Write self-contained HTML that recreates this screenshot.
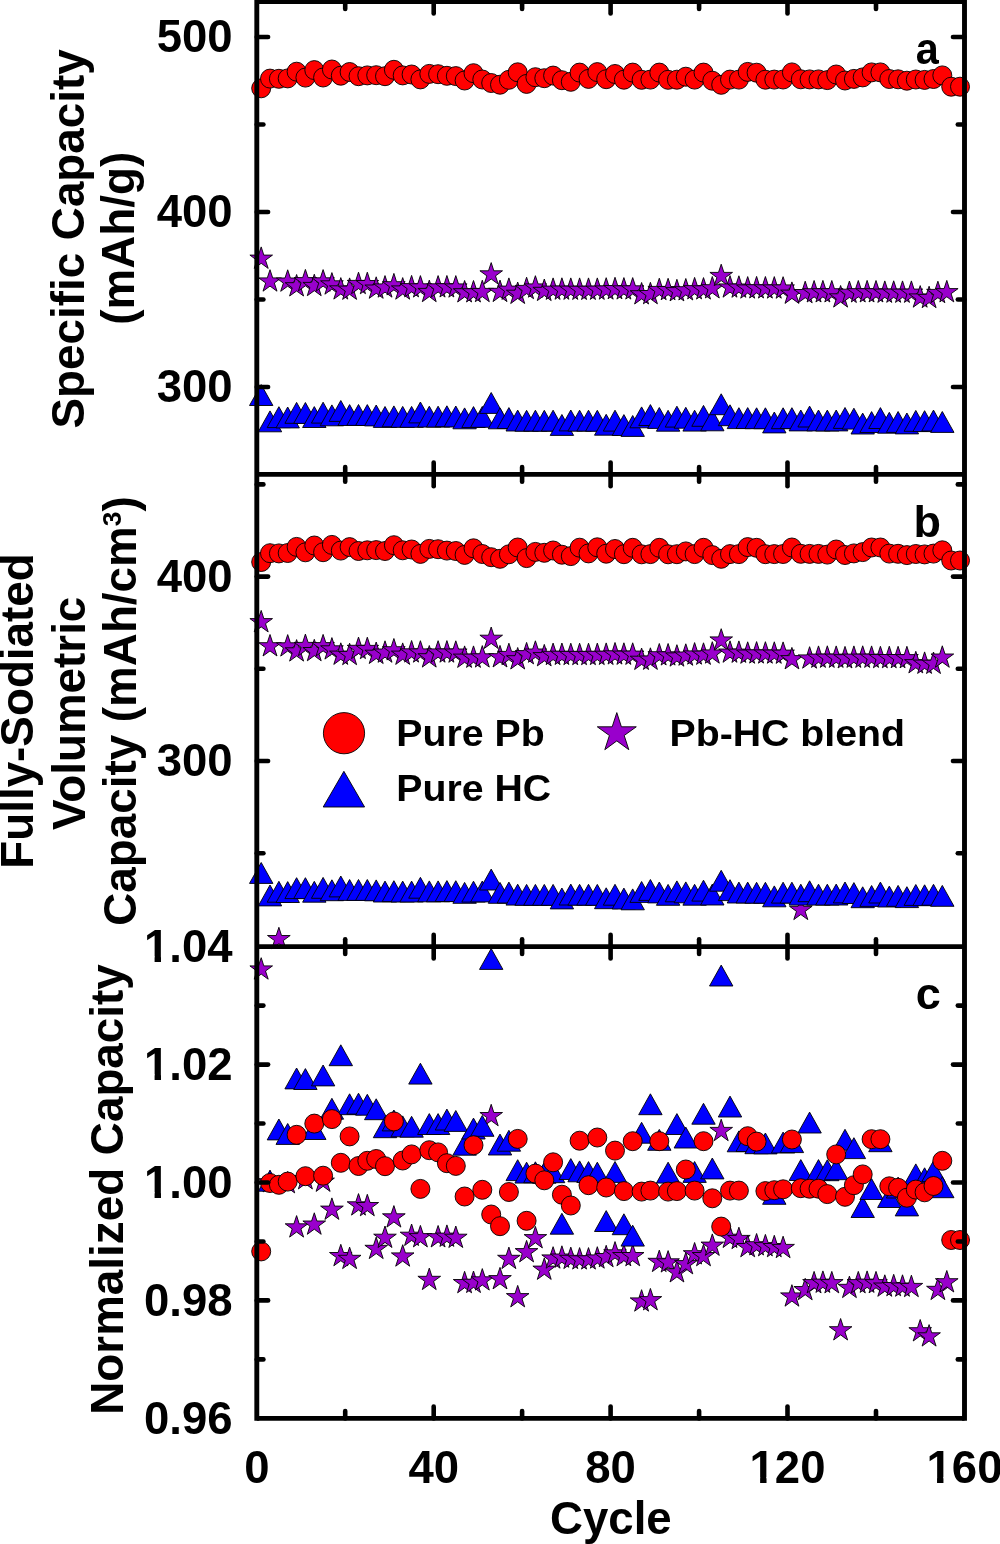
<!DOCTYPE html>
<html lang="en"><head><meta charset="utf-8">
<title>Cycling performance: Pure Pb, Pure HC and Pb-HC blend</title>
<style>html,body{margin:0;padding:0;background:#fff}svg{display:block}</style>
</head><body>
<svg width="1000" height="1544" viewBox="0 0 1000 1544">
<rect width="1000" height="1544" fill="#fff"/>
<g id="panel-a"><g fill="#9900cc" stroke="#000" stroke-width="0.9" stroke-linejoin="miter">
<path d="M261.2 246.9L263.8 255.1L272.5 255.1L265.5 260.2L268.2 268.4L261.2 263.3L254.2 268.4L256.8 260.2L249.9 255.1L258.5 255.1Z"/>
<path d="M270.0 269.7L272.7 277.9L281.3 277.9L274.3 283.0L277.0 291.2L270.0 286.1L263.0 291.2L265.7 283.0L258.7 277.9L267.3 277.9Z"/>
<path d="M287.7 269.8L290.4 278.0L299.0 278.0L292.0 283.1L294.7 291.3L287.7 286.2L280.7 291.3L283.4 283.1L276.4 278.0L285.0 278.0Z"/>
<path d="M296.6 274.5L299.2 282.7L307.9 282.7L300.9 287.8L303.6 296.0L296.6 291.0L289.6 296.0L292.2 287.8L285.2 282.7L293.9 282.7Z"/>
<path d="M305.4 269.4L308.1 277.6L316.7 277.6L309.7 282.7L312.4 290.9L305.4 285.8L298.4 290.9L301.1 282.7L294.1 277.6L302.7 277.6Z"/>
<path d="M314.3 274.2L316.9 282.4L325.6 282.4L318.6 287.5L321.2 295.7L314.3 290.7L307.3 295.7L309.9 287.5L302.9 282.4L311.6 282.4Z"/>
<path d="M323.1 269.6L325.8 277.8L334.4 277.8L327.4 282.9L330.1 291.2L323.1 286.1L316.1 291.2L318.8 282.9L311.8 277.8L320.4 277.8Z"/>
<path d="M331.9 272.6L334.6 280.8L343.3 280.8L336.3 285.9L338.9 294.2L331.9 289.1L324.9 294.2L327.6 285.9L320.6 280.8L329.3 280.8Z"/>
<path d="M340.8 277.6L343.5 285.8L352.1 285.8L345.1 290.9L347.8 299.1L340.8 294.0L333.8 299.1L336.5 290.9L329.5 285.8L338.1 285.8Z"/>
<path d="M349.6 277.9L352.3 286.1L361.0 286.1L354.0 291.2L356.6 299.4L349.6 294.3L342.6 299.4L345.3 291.2L338.3 286.1L347.0 286.1Z"/>
<path d="M358.5 272.2L361.2 280.4L369.8 280.4L362.8 285.5L365.5 293.7L358.5 288.6L351.5 293.7L354.2 285.5L347.2 280.4L355.8 280.4Z"/>
<path d="M367.3 272.2L370.0 280.5L378.6 280.5L371.7 285.5L374.3 293.8L367.3 288.7L360.3 293.8L363.0 285.5L356.0 280.5L364.7 280.5Z"/>
<path d="M376.2 276.8L378.8 285.0L387.5 285.0L380.5 290.1L383.2 298.3L376.2 293.3L369.2 298.3L371.9 290.1L364.9 285.0L373.5 285.0Z"/>
<path d="M385.0 275.6L387.7 283.9L396.3 283.9L389.3 288.9L392.0 297.2L385.0 292.1L378.0 297.2L380.7 288.9L373.7 283.9L382.3 283.9Z"/>
<path d="M393.9 273.4L396.5 281.7L405.2 281.7L398.2 286.8L400.9 295.0L393.9 289.9L386.9 295.0L389.5 286.8L382.5 281.7L391.2 281.7Z"/>
<path d="M402.7 277.6L405.4 285.9L414.0 285.9L407.0 290.9L409.7 299.2L402.7 294.1L395.7 299.2L398.4 290.9L391.4 285.9L400.0 285.9Z"/>
<path d="M411.6 275.4L414.2 283.6L422.9 283.6L415.9 288.7L418.6 296.9L411.6 291.9L404.6 296.9L407.2 288.7L400.2 283.6L408.9 283.6Z"/>
<path d="M420.4 275.6L423.1 283.8L431.7 283.8L424.7 288.9L427.4 297.1L420.4 292.0L413.4 297.1L416.1 288.9L409.1 283.8L417.7 283.8Z"/>
<path d="M429.3 280.1L431.9 288.4L440.6 288.4L433.6 293.4L436.2 301.7L429.3 296.6L422.3 301.7L424.9 293.4L417.9 288.4L426.6 288.4Z"/>
<path d="M438.1 275.6L440.8 283.8L449.4 283.8L442.4 288.9L445.1 297.1L438.1 292.0L431.1 297.1L433.8 288.9L426.8 283.8L435.4 283.8Z"/>
<path d="M446.9 275.5L449.6 283.7L458.3 283.7L451.3 288.8L453.9 297.0L446.9 292.0L439.9 297.0L442.6 288.8L435.6 283.7L444.3 283.7Z"/>
<path d="M455.8 275.6L458.5 283.9L467.1 283.9L460.1 288.9L462.8 297.2L455.8 292.1L448.8 297.2L451.5 288.9L444.5 283.9L453.1 283.9Z"/>
<path d="M464.6 280.5L467.3 288.7L476.0 288.7L469.0 293.8L471.6 302.0L464.6 296.9L457.6 302.0L460.3 293.8L453.3 288.7L462.0 288.7Z"/>
<path d="M473.5 280.5L476.2 288.7L484.8 288.7L477.8 293.8L480.5 302.0L473.5 296.9L466.5 302.0L469.2 293.8L462.2 288.7L470.8 288.7Z"/>
<path d="M482.3 280.2L485.0 288.4L493.6 288.4L486.7 293.5L489.3 301.7L482.3 296.6L475.3 301.7L478.0 293.5L471.0 288.4L479.7 288.4Z"/>
<path d="M491.2 262.6L493.8 270.8L502.5 270.8L495.5 275.9L498.2 284.1L491.2 279.0L484.2 284.1L486.9 275.9L479.9 270.8L488.5 270.8Z"/>
<path d="M500.0 280.1L502.7 288.3L511.3 288.3L504.3 293.4L507.0 301.6L500.0 296.5L493.0 301.6L495.7 293.4L488.7 288.3L497.3 288.3Z"/>
<path d="M508.9 277.9L511.5 286.1L520.2 286.1L513.2 291.2L515.9 299.4L508.9 294.3L501.9 299.4L504.5 291.2L497.6 286.1L506.2 286.1Z"/>
<path d="M517.7 282.0L520.4 290.2L529.0 290.2L522.0 295.3L524.7 303.5L517.7 298.4L510.7 303.5L513.4 295.3L506.4 290.2L515.0 290.2Z"/>
<path d="M526.6 277.2L529.2 285.4L537.9 285.4L530.9 290.5L533.6 298.7L526.6 293.6L519.6 298.7L522.2 290.5L515.2 285.4L523.9 285.4Z"/>
<path d="M535.4 275.7L538.1 283.9L546.7 283.9L539.7 289.0L542.4 297.2L535.4 292.1L528.4 297.2L531.1 289.0L524.1 283.9L532.7 283.9Z"/>
<path d="M544.3 279.0L546.9 287.3L555.6 287.3L548.6 292.4L551.2 300.6L544.3 295.5L537.3 300.6L539.9 292.4L532.9 287.3L541.6 287.3Z"/>
<path d="M553.1 277.9L555.8 286.1L564.4 286.1L557.4 291.2L560.1 299.4L553.1 294.3L546.1 299.4L548.8 291.2L541.8 286.1L550.4 286.1Z"/>
<path d="M561.9 277.8L564.6 286.0L573.3 286.0L566.3 291.1L568.9 299.3L561.9 294.2L555.0 299.3L557.6 291.1L550.6 286.0L559.3 286.0Z"/>
<path d="M570.8 277.9L573.5 286.1L582.1 286.1L575.1 291.2L577.8 299.4L570.8 294.3L563.8 299.4L566.5 291.2L559.5 286.1L568.1 286.1Z"/>
<path d="M579.6 277.9L582.3 286.2L591.0 286.2L584.0 291.3L586.6 299.5L579.6 294.4L572.6 299.5L575.3 291.3L568.3 286.2L577.0 286.2Z"/>
<path d="M588.5 277.9L591.2 286.2L599.8 286.2L592.8 291.3L595.5 299.5L588.5 294.4L581.5 299.5L584.2 291.3L577.2 286.2L585.8 286.2Z"/>
<path d="M597.3 277.9L600.0 286.1L608.6 286.1L601.7 291.2L604.3 299.4L597.3 294.3L590.3 299.4L593.0 291.2L586.0 286.1L594.7 286.1Z"/>
<path d="M606.2 277.7L608.8 285.9L617.5 285.9L610.5 291.0L613.2 299.2L606.2 294.1L599.2 299.2L601.9 291.0L594.9 285.9L603.5 285.9Z"/>
<path d="M615.0 277.3L617.7 285.5L626.3 285.5L619.3 290.6L622.0 298.8L615.0 293.7L608.0 298.8L610.7 290.6L603.7 285.5L612.4 285.5Z"/>
<path d="M623.9 277.6L626.5 285.8L635.2 285.8L628.2 290.9L630.9 299.1L623.9 294.0L616.9 299.1L619.5 290.9L612.6 285.8L621.2 285.8Z"/>
<path d="M632.7 277.6L635.4 285.8L644.0 285.8L637.0 290.9L639.7 299.1L632.7 294.0L625.7 299.1L628.4 290.9L621.4 285.8L630.0 285.8Z"/>
<path d="M641.6 282.5L644.2 290.7L652.9 290.7L645.9 295.8L648.6 304.0L641.6 298.9L634.6 304.0L637.2 295.8L630.2 290.7L638.9 290.7Z"/>
<path d="M650.4 282.3L653.1 290.5L661.7 290.5L654.7 295.6L657.4 303.8L650.4 298.8L643.4 303.8L646.1 295.6L639.1 290.5L647.7 290.5Z"/>
<path d="M659.3 278.2L661.9 286.4L670.6 286.4L663.6 291.5L666.2 299.7L659.3 294.7L652.3 299.7L654.9 291.5L647.9 286.4L656.6 286.4Z"/>
<path d="M668.1 278.3L670.8 286.5L679.4 286.5L672.4 291.6L675.1 299.8L668.1 294.7L661.1 299.8L663.8 291.6L656.8 286.5L665.4 286.5Z"/>
<path d="M676.9 279.3L679.6 287.6L688.3 287.6L681.3 292.6L683.9 300.9L676.9 295.8L670.0 300.9L672.6 292.6L665.6 287.6L674.3 287.6Z"/>
<path d="M685.8 278.5L688.5 286.7L697.1 286.7L690.1 291.8L692.8 300.0L685.8 294.9L678.8 300.0L681.5 291.8L674.5 286.7L683.1 286.7Z"/>
<path d="M694.6 277.4L697.3 285.6L706.0 285.6L699.0 290.7L701.6 298.9L694.6 293.8L687.6 298.9L690.3 290.7L683.3 285.6L692.0 285.6Z"/>
<path d="M703.5 277.6L706.2 285.8L714.8 285.8L707.8 290.9L710.5 299.1L703.5 294.0L696.5 299.1L699.2 290.9L692.2 285.8L700.8 285.8Z"/>
<path d="M712.3 276.5L715.0 284.7L723.6 284.7L716.7 289.8L719.3 298.0L712.3 292.9L705.3 298.0L708.0 289.8L701.0 284.7L709.7 284.7Z"/>
<path d="M721.2 264.2L723.9 272.4L732.5 272.4L725.5 277.5L728.2 285.7L721.2 280.6L714.2 285.7L716.9 277.5L709.9 272.4L718.5 272.4Z"/>
<path d="M730.0 275.6L732.7 283.9L741.3 283.9L734.3 288.9L737.0 297.2L730.0 292.1L723.0 297.2L725.7 288.9L718.7 283.9L727.4 283.9Z"/>
<path d="M738.9 275.8L741.5 284.0L750.2 284.0L743.2 289.1L745.9 297.3L738.9 292.2L731.9 297.3L734.5 289.1L727.6 284.0L736.2 284.0Z"/>
<path d="M747.7 276.6L750.4 284.9L759.0 284.9L752.0 289.9L754.7 298.2L747.7 293.1L740.7 298.2L743.4 289.9L736.4 284.9L745.0 284.9Z"/>
<path d="M756.6 276.4L759.2 284.7L767.9 284.7L760.9 289.7L763.6 298.0L756.6 292.9L749.6 298.0L752.2 289.7L745.2 284.7L753.9 284.7Z"/>
<path d="M765.4 276.5L768.1 284.8L776.7 284.8L769.7 289.8L772.4 298.1L765.4 293.0L758.4 298.1L761.1 289.8L754.1 284.8L762.7 284.8Z"/>
<path d="M774.3 276.6L776.9 284.9L785.6 284.9L778.6 289.9L781.3 298.2L774.3 293.1L767.3 298.2L769.9 289.9L762.9 284.9L771.6 284.9Z"/>
<path d="M783.1 276.7L785.8 284.9L794.4 284.9L787.4 290.0L790.1 298.3L783.1 293.2L776.1 298.3L778.8 290.0L771.8 284.9L780.4 284.9Z"/>
<path d="M791.9 281.9L794.6 290.1L803.3 290.1L796.3 295.2L798.9 303.4L791.9 298.4L785.0 303.4L787.6 295.2L780.6 290.1L789.3 290.1Z"/>
<path d="M805.2 281.2L807.9 289.5L816.5 289.5L809.5 294.5L812.2 302.8L805.2 297.7L798.2 302.8L800.9 294.5L793.9 289.5L802.5 289.5Z"/>
<path d="M814.1 280.5L816.7 288.7L825.4 288.7L818.4 293.8L821.1 302.0L814.1 296.9L807.1 302.0L809.7 293.8L802.7 288.7L811.4 288.7Z"/>
<path d="M822.9 280.4L825.6 288.7L834.2 288.7L827.2 293.7L829.9 302.0L822.9 296.9L815.9 302.0L818.6 293.7L811.6 288.7L820.2 288.7Z"/>
<path d="M831.8 280.5L834.4 288.7L843.1 288.7L836.1 293.8L838.8 302.0L831.8 296.9L824.8 302.0L827.4 293.8L820.4 288.7L829.1 288.7Z"/>
<path d="M840.6 285.5L843.3 293.8L851.9 293.8L844.9 298.8L847.6 307.1L840.6 302.0L833.6 307.1L836.3 298.8L829.3 293.8L837.9 293.8Z"/>
<path d="M849.4 281.0L852.1 289.2L860.8 289.2L853.8 294.3L856.4 302.5L849.4 297.4L842.5 302.5L845.1 294.3L838.1 289.2L846.8 289.2Z"/>
<path d="M858.3 280.5L861.0 288.7L869.6 288.7L862.6 293.8L865.3 302.0L858.3 296.9L851.3 302.0L854.0 293.8L847.0 288.7L855.6 288.7Z"/>
<path d="M867.1 280.4L869.8 288.7L878.5 288.7L871.5 293.7L874.1 302.0L867.1 296.9L860.1 302.0L862.8 293.7L855.8 288.7L864.5 288.7Z"/>
<path d="M876.0 280.5L878.7 288.7L887.3 288.7L880.3 293.8L883.0 302.0L876.0 296.9L869.0 302.0L871.7 293.8L864.7 288.7L873.3 288.7Z"/>
<path d="M884.8 280.9L887.5 289.1L896.2 289.1L889.2 294.2L891.8 302.4L884.8 297.3L877.8 302.4L880.5 294.2L873.5 289.1L882.2 289.1Z"/>
<path d="M893.7 280.8L896.4 289.0L905.0 289.0L898.0 294.1L900.7 302.3L893.7 297.3L886.7 302.3L889.4 294.1L882.4 289.0L891.0 289.0Z"/>
<path d="M902.5 280.9L905.2 289.1L913.8 289.1L906.8 294.2L909.5 302.4L902.5 297.3L895.5 302.4L898.2 294.2L891.2 289.1L899.9 289.1Z"/>
<path d="M911.4 280.9L914.0 289.1L922.7 289.1L915.7 294.2L918.4 302.4L911.4 297.3L904.4 302.4L907.0 294.2L900.1 289.1L908.7 289.1Z"/>
<path d="M920.2 285.6L922.9 293.9L931.5 293.9L924.5 299.0L927.2 307.2L920.2 302.1L913.2 307.2L915.9 299.0L908.9 293.9L917.5 293.9Z"/>
<path d="M929.1 286.2L931.7 294.4L940.4 294.4L933.4 299.5L936.1 307.7L929.1 302.6L922.1 307.7L924.7 299.5L917.7 294.4L926.4 294.4Z"/>
<path d="M937.9 281.2L940.6 289.4L949.2 289.4L942.2 294.5L944.9 302.7L937.9 297.7L930.9 302.7L933.6 294.5L926.6 289.4L935.2 289.4Z"/>
<path d="M946.8 280.4L949.4 288.6L958.1 288.6L951.1 293.7L953.8 301.9L946.8 296.8L939.8 301.9L942.4 293.7L935.4 288.6L944.1 288.6Z"/>
</g>
<g fill="#0000ff" stroke="#000" stroke-width="0.9" stroke-linejoin="miter">
<path d="M261.2 384.6L272.9 405.5L249.5 405.5Z"/>
<path d="M270.0 410.9L281.7 431.8L258.3 431.8Z"/>
<path d="M278.9 406.7L290.6 427.6L267.2 427.6Z"/>
<path d="M287.7 407.0L299.4 427.9L276.0 427.9Z"/>
<path d="M296.6 402.4L308.3 423.3L284.9 423.3Z"/>
<path d="M305.4 402.5L317.1 423.4L293.7 423.4Z"/>
<path d="M314.3 406.6L326.0 427.5L302.6 427.5Z"/>
<path d="M323.1 402.2L334.8 423.1L311.4 423.1Z"/>
<path d="M331.9 404.9L343.6 425.8L320.2 425.8Z"/>
<path d="M340.8 400.5L352.5 421.4L329.1 421.4Z"/>
<path d="M349.6 404.6L361.3 425.5L337.9 425.5Z"/>
<path d="M358.5 404.5L370.2 425.4L346.8 425.4Z"/>
<path d="M367.3 404.6L379.0 425.5L355.6 425.5Z"/>
<path d="M376.2 405.0L387.9 425.9L364.5 425.9Z"/>
<path d="M385.0 406.5L396.7 427.4L373.3 427.4Z"/>
<path d="M393.9 405.9L405.6 426.8L382.2 426.8Z"/>
<path d="M402.7 406.4L414.4 427.3L391.0 427.3Z"/>
<path d="M411.6 406.4L423.3 427.3L399.9 427.3Z"/>
<path d="M420.4 402.0L432.1 422.9L408.7 422.9Z"/>
<path d="M429.3 406.2L441.0 427.1L417.6 427.1Z"/>
<path d="M438.1 406.2L449.8 427.1L426.4 427.1Z"/>
<path d="M446.9 405.8L458.6 426.7L435.2 426.7Z"/>
<path d="M455.8 406.0L467.5 426.9L444.1 426.9Z"/>
<path d="M464.6 407.9L476.3 428.8L452.9 428.8Z"/>
<path d="M473.5 406.6L485.2 427.5L461.8 427.5Z"/>
<path d="M482.3 406.4L494.0 427.3L470.6 427.3Z"/>
<path d="M491.2 392.5L502.9 413.4L479.5 413.4Z"/>
<path d="M500.0 407.9L511.7 428.8L488.3 428.8Z"/>
<path d="M508.9 407.6L520.6 428.5L497.2 428.5Z"/>
<path d="M517.7 410.1L529.4 431.0L506.0 431.0Z"/>
<path d="M526.6 410.3L538.3 431.2L514.9 431.2Z"/>
<path d="M535.4 410.2L547.1 431.1L523.7 431.1Z"/>
<path d="M544.3 410.3L556.0 431.2L532.6 431.2Z"/>
<path d="M553.1 410.2L564.8 431.1L541.4 431.1Z"/>
<path d="M561.9 414.5L573.6 435.4L550.2 435.4Z"/>
<path d="M570.8 410.0L582.5 430.9L559.1 430.9Z"/>
<path d="M579.6 410.2L591.3 431.1L567.9 431.1Z"/>
<path d="M588.5 410.2L600.2 431.1L576.8 431.1Z"/>
<path d="M597.3 410.3L609.0 431.2L585.6 431.2Z"/>
<path d="M606.2 414.3L617.9 435.2L594.5 435.2Z"/>
<path d="M615.0 410.2L626.7 431.1L603.3 431.1Z"/>
<path d="M623.9 414.6L635.6 435.5L612.2 435.5Z"/>
<path d="M632.7 415.5L644.4 436.4L621.0 436.4Z"/>
<path d="M641.6 406.9L653.3 427.8L629.9 427.8Z"/>
<path d="M650.4 404.6L662.1 425.5L638.7 425.5Z"/>
<path d="M659.3 407.5L671.0 428.4L647.6 428.4Z"/>
<path d="M668.1 410.3L679.8 431.2L656.4 431.2Z"/>
<path d="M676.9 406.2L688.6 427.1L665.2 427.1Z"/>
<path d="M685.8 407.3L697.5 428.2L674.1 428.2Z"/>
<path d="M694.6 410.2L706.3 431.1L682.9 431.1Z"/>
<path d="M703.5 405.4L715.2 426.3L691.8 426.3Z"/>
<path d="M712.3 409.9L724.0 430.8L700.6 430.8Z"/>
<path d="M721.2 393.8L732.9 414.7L709.5 414.7Z"/>
<path d="M730.0 404.8L741.7 425.7L718.3 425.7Z"/>
<path d="M738.9 407.7L750.6 428.6L727.2 428.6Z"/>
<path d="M747.7 407.6L759.4 428.5L736.0 428.5Z"/>
<path d="M756.6 407.8L768.3 428.7L744.9 428.7Z"/>
<path d="M765.4 407.8L777.1 428.7L753.7 428.7Z"/>
<path d="M774.3 412.0L786.0 432.9L762.6 432.9Z"/>
<path d="M783.1 407.8L794.8 428.7L771.4 428.7Z"/>
<path d="M791.9 407.7L803.6 428.6L780.2 428.6Z"/>
<path d="M800.8 410.0L812.5 430.9L789.1 430.9Z"/>
<path d="M809.6 406.1L821.3 427.0L797.9 427.0Z"/>
<path d="M818.5 410.0L830.2 430.9L806.8 430.9Z"/>
<path d="M827.3 410.1L839.0 431.0L815.6 431.0Z"/>
<path d="M836.2 410.0L847.9 430.9L824.5 430.9Z"/>
<path d="M845.0 407.5L856.7 428.4L833.3 428.4Z"/>
<path d="M853.9 408.2L865.6 429.1L842.2 429.1Z"/>
<path d="M862.7 413.1L874.4 434.0L851.0 434.0Z"/>
<path d="M871.6 411.6L883.3 432.5L859.9 432.5Z"/>
<path d="M880.4 407.6L892.1 428.5L868.7 428.5Z"/>
<path d="M889.3 412.3L901.0 433.2L877.6 433.2Z"/>
<path d="M898.1 411.5L909.8 432.4L886.4 432.4Z"/>
<path d="M906.9 413.0L918.6 433.9L895.2 433.9Z"/>
<path d="M915.8 410.4L927.5 431.3L904.1 431.3Z"/>
<path d="M924.6 410.7L936.3 431.6L912.9 431.6Z"/>
<path d="M933.5 410.1L945.2 431.0L921.8 431.0Z"/>
<path d="M942.3 411.5L954.0 432.4L930.6 432.4Z"/>
</g>
<g fill="#ff0000" stroke="#000" stroke-width="0.9" stroke-linejoin="miter">
<circle cx="261.2" cy="88.3" r="9.5"/>
<circle cx="270.0" cy="78.6" r="9.5"/>
<circle cx="278.9" cy="78.8" r="9.5"/>
<circle cx="287.7" cy="78.4" r="9.5"/>
<circle cx="296.6" cy="71.7" r="9.5"/>
<circle cx="305.4" cy="77.6" r="9.5"/>
<circle cx="314.3" cy="70.1" r="9.5"/>
<circle cx="323.1" cy="77.5" r="9.5"/>
<circle cx="331.9" cy="69.5" r="9.5"/>
<circle cx="340.8" cy="75.7" r="9.5"/>
<circle cx="349.6" cy="72.0" r="9.5"/>
<circle cx="358.5" cy="76.2" r="9.5"/>
<circle cx="367.3" cy="75.4" r="9.5"/>
<circle cx="376.2" cy="75.2" r="9.5"/>
<circle cx="385.0" cy="76.2" r="9.5"/>
<circle cx="393.9" cy="69.8" r="9.5"/>
<circle cx="402.7" cy="75.4" r="9.5"/>
<circle cx="411.6" cy="74.5" r="9.5"/>
<circle cx="420.4" cy="79.4" r="9.5"/>
<circle cx="429.3" cy="73.9" r="9.5"/>
<circle cx="438.1" cy="74.2" r="9.5"/>
<circle cx="446.9" cy="75.8" r="9.5"/>
<circle cx="455.8" cy="76.1" r="9.5"/>
<circle cx="464.6" cy="80.5" r="9.5"/>
<circle cx="473.5" cy="73.2" r="9.5"/>
<circle cx="482.3" cy="79.5" r="9.5"/>
<circle cx="491.2" cy="83.0" r="9.5"/>
<circle cx="500.0" cy="84.7" r="9.5"/>
<circle cx="508.9" cy="79.8" r="9.5"/>
<circle cx="517.7" cy="72.3" r="9.5"/>
<circle cx="526.6" cy="83.9" r="9.5"/>
<circle cx="535.4" cy="77.2" r="9.5"/>
<circle cx="544.3" cy="78.2" r="9.5"/>
<circle cx="553.1" cy="75.6" r="9.5"/>
<circle cx="561.9" cy="80.2" r="9.5"/>
<circle cx="570.8" cy="81.8" r="9.5"/>
<circle cx="579.6" cy="72.6" r="9.5"/>
<circle cx="588.5" cy="78.9" r="9.5"/>
<circle cx="597.3" cy="72.1" r="9.5"/>
<circle cx="606.2" cy="79.2" r="9.5"/>
<circle cx="615.0" cy="74.0" r="9.5"/>
<circle cx="623.9" cy="79.7" r="9.5"/>
<circle cx="632.7" cy="72.6" r="9.5"/>
<circle cx="641.6" cy="79.8" r="9.5"/>
<circle cx="650.4" cy="79.6" r="9.5"/>
<circle cx="659.3" cy="72.6" r="9.5"/>
<circle cx="668.1" cy="79.8" r="9.5"/>
<circle cx="676.9" cy="79.7" r="9.5"/>
<circle cx="685.8" cy="76.7" r="9.5"/>
<circle cx="694.6" cy="79.6" r="9.5"/>
<circle cx="703.5" cy="72.6" r="9.5"/>
<circle cx="712.3" cy="80.7" r="9.5"/>
<circle cx="721.2" cy="84.8" r="9.5"/>
<circle cx="730.0" cy="79.6" r="9.5"/>
<circle cx="738.9" cy="79.6" r="9.5"/>
<circle cx="747.7" cy="71.9" r="9.5"/>
<circle cx="756.6" cy="72.7" r="9.5"/>
<circle cx="765.4" cy="79.7" r="9.5"/>
<circle cx="774.3" cy="79.6" r="9.5"/>
<circle cx="783.1" cy="79.5" r="9.5"/>
<circle cx="791.9" cy="72.4" r="9.5"/>
<circle cx="800.8" cy="79.3" r="9.5"/>
<circle cx="809.6" cy="79.4" r="9.5"/>
<circle cx="818.5" cy="79.4" r="9.5"/>
<circle cx="827.3" cy="80.1" r="9.5"/>
<circle cx="836.2" cy="74.5" r="9.5"/>
<circle cx="845.0" cy="80.5" r="9.5"/>
<circle cx="853.9" cy="78.9" r="9.5"/>
<circle cx="862.7" cy="77.4" r="9.5"/>
<circle cx="871.6" cy="72.4" r="9.5"/>
<circle cx="880.4" cy="72.4" r="9.5"/>
<circle cx="889.3" cy="79.0" r="9.5"/>
<circle cx="898.1" cy="79.3" r="9.5"/>
<circle cx="906.9" cy="80.7" r="9.5"/>
<circle cx="915.8" cy="79.5" r="9.5"/>
<circle cx="924.6" cy="79.9" r="9.5"/>
<circle cx="933.5" cy="79.0" r="9.5"/>
<circle cx="942.3" cy="75.4" r="9.5"/>
<circle cx="951.2" cy="86.7" r="9.5"/>
<circle cx="960.0" cy="86.7" r="9.5"/>
</g></g>
<g id="panel-b"><g fill="#9900cc" stroke="#000" stroke-width="0.9" stroke-linejoin="miter">
<path d="M261.2 610.4L263.8 618.6L272.5 618.6L265.5 623.7L268.2 631.9L261.2 626.9L254.2 631.9L256.8 623.7L249.9 618.6L258.5 618.6Z"/>
<path d="M270.0 634.5L272.7 642.7L281.3 642.7L274.3 647.8L277.0 656.0L270.0 650.9L263.0 656.0L265.7 647.8L258.7 642.7L267.3 642.7Z"/>
<path d="M278.9 927.3L281.5 935.5L290.2 935.5L283.2 940.6L285.9 948.8L278.9 943.7L271.9 948.8L274.5 940.6L267.5 935.5L276.2 935.5Z"/>
<path d="M287.7 634.6L290.4 642.8L299.0 642.8L292.0 647.9L294.7 656.1L287.7 651.0L280.7 656.1L283.4 647.9L276.4 642.8L285.0 642.8Z"/>
<path d="M296.6 639.6L299.2 647.8L307.9 647.8L300.9 652.9L303.6 661.1L296.6 656.0L289.6 661.1L292.2 652.9L285.2 647.8L293.9 647.8Z"/>
<path d="M305.4 634.1L308.1 642.4L316.7 642.4L309.7 647.4L312.4 655.7L305.4 650.6L298.4 655.7L301.1 647.4L294.1 642.4L302.7 642.4Z"/>
<path d="M314.3 639.3L316.9 647.5L325.6 647.5L318.6 652.6L321.2 660.8L314.3 655.7L307.3 660.8L309.9 652.6L302.9 647.5L311.6 647.5Z"/>
<path d="M323.1 634.4L325.8 642.6L334.4 642.6L327.4 647.7L330.1 655.9L323.1 650.9L316.1 655.9L318.8 647.7L311.8 642.6L320.4 642.6Z"/>
<path d="M331.9 637.6L334.6 645.8L343.3 645.8L336.3 650.9L338.9 659.1L331.9 654.0L324.9 659.1L327.6 650.9L320.6 645.8L329.3 645.8Z"/>
<path d="M340.8 642.8L343.5 651.1L352.1 651.1L345.1 656.1L347.8 664.4L340.8 659.3L333.8 664.4L336.5 656.1L329.5 651.1L338.1 651.1Z"/>
<path d="M349.6 643.2L352.3 651.4L361.0 651.4L354.0 656.5L356.6 664.7L349.6 659.6L342.6 664.7L345.3 656.5L338.3 651.4L347.0 651.4Z"/>
<path d="M358.5 637.1L361.2 645.3L369.8 645.3L362.8 650.4L365.5 658.6L358.5 653.5L351.5 658.6L354.2 650.4L347.2 645.3L355.8 645.3Z"/>
<path d="M367.3 637.2L370.0 645.4L378.6 645.4L371.7 650.5L374.3 658.7L367.3 653.6L360.3 658.7L363.0 650.5L356.0 645.4L364.7 645.4Z"/>
<path d="M376.2 642.0L378.8 650.2L387.5 650.2L380.5 655.3L383.2 663.5L376.2 658.5L369.2 663.5L371.9 655.3L364.9 650.2L373.5 650.2Z"/>
<path d="M385.0 640.8L387.7 649.0L396.3 649.0L389.3 654.1L392.0 662.3L385.0 657.2L378.0 662.3L380.7 654.1L373.7 649.0L382.3 649.0Z"/>
<path d="M393.9 638.5L396.5 646.7L405.2 646.7L398.2 651.8L400.9 660.0L393.9 654.9L386.9 660.0L389.5 651.8L382.5 646.7L391.2 646.7Z"/>
<path d="M402.7 642.9L405.4 651.1L414.0 651.1L407.0 656.2L409.7 664.4L402.7 659.3L395.7 664.4L398.4 656.2L391.4 651.1L400.0 651.1Z"/>
<path d="M411.6 640.5L414.2 648.8L422.9 648.8L415.9 653.8L418.6 662.1L411.6 657.0L404.6 662.1L407.2 653.8L400.2 648.8L408.9 648.8Z"/>
<path d="M420.4 640.7L423.1 648.9L431.7 648.9L424.7 654.0L427.4 662.2L420.4 657.1L413.4 662.2L416.1 654.0L409.1 648.9L417.7 648.9Z"/>
<path d="M429.3 645.5L431.9 653.7L440.6 653.7L433.6 658.8L436.2 667.1L429.3 662.0L422.3 667.1L424.9 658.8L417.9 653.7L426.6 653.7Z"/>
<path d="M438.1 640.7L440.8 648.9L449.4 648.9L442.4 654.0L445.1 662.2L438.1 657.2L431.1 662.2L433.8 654.0L426.8 648.9L435.4 648.9Z"/>
<path d="M446.9 640.6L449.6 648.9L458.3 648.9L451.3 653.9L453.9 662.2L446.9 657.1L439.9 662.2L442.6 653.9L435.6 648.9L444.3 648.9Z"/>
<path d="M455.8 640.8L458.5 649.0L467.1 649.0L460.1 654.1L462.8 662.3L455.8 657.2L448.8 662.3L451.5 654.1L444.5 649.0L453.1 649.0Z"/>
<path d="M464.6 645.9L467.3 654.1L476.0 654.1L469.0 659.2L471.6 667.4L464.6 662.3L457.6 667.4L460.3 659.2L453.3 654.1L462.0 654.1Z"/>
<path d="M473.5 645.9L476.2 654.1L484.8 654.1L477.8 659.2L480.5 667.4L473.5 662.3L466.5 667.4L469.2 659.2L462.2 654.1L470.8 654.1Z"/>
<path d="M482.3 645.6L485.0 653.8L493.6 653.8L486.7 658.9L489.3 667.1L482.3 662.0L475.3 667.1L478.0 658.9L471.0 653.8L479.7 653.8Z"/>
<path d="M491.2 627.0L493.8 635.2L502.5 635.2L495.5 640.3L498.2 648.5L491.2 643.4L484.2 648.5L486.9 640.3L479.9 635.2L488.5 635.2Z"/>
<path d="M500.0 645.4L502.7 653.7L511.3 653.7L504.3 658.8L507.0 667.0L500.0 661.9L493.0 667.0L495.7 658.8L488.7 653.7L497.3 653.7Z"/>
<path d="M508.9 643.2L511.5 651.4L520.2 651.4L513.2 656.5L515.9 664.7L508.9 659.6L501.9 664.7L504.5 656.5L497.6 651.4L506.2 651.4Z"/>
<path d="M517.7 647.5L520.4 655.7L529.0 655.7L522.0 660.8L524.7 669.0L517.7 663.9L510.7 669.0L513.4 660.8L506.4 655.7L515.0 655.7Z"/>
<path d="M526.6 642.4L529.2 650.6L537.9 650.6L530.9 655.7L533.6 663.9L526.6 658.8L519.6 663.9L522.2 655.7L515.2 650.6L523.9 650.6Z"/>
<path d="M535.4 640.8L538.1 649.0L546.7 649.0L539.7 654.1L542.4 662.3L535.4 657.3L528.4 662.3L531.1 654.1L524.1 649.0L532.7 649.0Z"/>
<path d="M544.3 644.4L546.9 652.6L555.6 652.6L548.6 657.7L551.2 665.9L544.3 660.8L537.3 665.9L539.9 657.7L532.9 652.6L541.6 652.6Z"/>
<path d="M553.1 643.1L555.8 651.3L564.4 651.3L557.4 656.4L560.1 664.6L553.1 659.6L546.1 664.6L548.8 656.4L541.8 651.3L550.4 651.3Z"/>
<path d="M561.9 643.0L564.6 651.2L573.3 651.2L566.3 656.3L568.9 664.5L561.9 659.5L555.0 664.5L557.6 656.3L550.6 651.2L559.3 651.2Z"/>
<path d="M570.8 643.2L573.5 651.4L582.1 651.4L575.1 656.5L577.8 664.7L570.8 659.6L563.8 664.7L566.5 656.5L559.5 651.4L568.1 651.4Z"/>
<path d="M579.6 643.2L582.3 651.4L591.0 651.4L584.0 656.5L586.6 664.7L579.6 659.7L572.6 664.7L575.3 656.5L568.3 651.4L577.0 651.4Z"/>
<path d="M588.5 643.2L591.2 651.4L599.8 651.4L592.8 656.5L595.5 664.7L588.5 659.7L581.5 664.7L584.2 656.5L577.2 651.4L585.8 651.4Z"/>
<path d="M597.3 643.1L600.0 651.3L608.6 651.3L601.7 656.4L604.3 664.6L597.3 659.6L590.3 664.6L593.0 656.4L586.0 651.3L594.7 651.3Z"/>
<path d="M606.2 642.9L608.8 651.2L617.5 651.2L610.5 656.3L613.2 664.5L606.2 659.4L599.2 664.5L601.9 656.3L594.9 651.2L603.5 651.2Z"/>
<path d="M615.0 642.5L617.7 650.8L626.3 650.8L619.3 655.8L622.0 664.1L615.0 659.0L608.0 664.1L610.7 655.8L603.7 650.8L612.4 650.8Z"/>
<path d="M623.9 642.8L626.5 651.1L635.2 651.1L628.2 656.1L630.9 664.4L623.9 659.3L616.9 664.4L619.5 656.1L612.6 651.1L621.2 651.1Z"/>
<path d="M632.7 642.8L635.4 651.1L644.0 651.1L637.0 656.1L639.7 664.4L632.7 659.3L625.7 664.4L628.4 656.1L621.4 651.1L630.0 651.1Z"/>
<path d="M641.6 648.0L644.2 656.2L652.9 656.2L645.9 661.3L648.6 669.5L641.6 664.4L634.6 669.5L637.2 661.3L630.2 656.2L638.9 656.2Z"/>
<path d="M650.4 647.8L653.1 656.0L661.7 656.0L654.7 661.1L657.4 669.4L650.4 664.3L643.4 669.4L646.1 661.1L639.1 656.0L647.7 656.0Z"/>
<path d="M659.3 643.5L661.9 651.7L670.6 651.7L663.6 656.8L666.2 665.0L659.3 659.9L652.3 665.0L654.9 656.8L647.9 651.7L656.6 651.7Z"/>
<path d="M668.1 643.5L670.8 651.8L679.4 651.8L672.4 656.9L675.1 665.1L668.1 660.0L661.1 665.1L663.8 656.9L656.8 651.8L665.4 651.8Z"/>
<path d="M676.9 644.7L679.6 652.9L688.3 652.9L681.3 658.0L683.9 666.2L676.9 661.1L670.0 666.2L672.6 658.0L665.6 652.9L674.3 652.9Z"/>
<path d="M685.8 643.8L688.5 652.0L697.1 652.0L690.1 657.1L692.8 665.3L685.8 660.2L678.8 665.3L681.5 657.1L674.5 652.0L683.1 652.0Z"/>
<path d="M694.6 642.6L697.3 650.9L706.0 650.9L699.0 655.9L701.6 664.2L694.6 659.1L687.6 664.2L690.3 655.9L683.3 650.9L692.0 650.9Z"/>
<path d="M703.5 642.8L706.2 651.1L714.8 651.1L707.8 656.1L710.5 664.4L703.5 659.3L696.5 664.4L699.2 656.1L692.2 651.1L700.8 651.1Z"/>
<path d="M712.3 641.7L715.0 649.9L723.6 649.9L716.7 655.0L719.3 663.2L712.3 658.1L705.3 663.2L708.0 655.0L701.0 649.9L709.7 649.9Z"/>
<path d="M721.2 628.7L723.9 636.9L732.5 636.9L725.5 642.0L728.2 650.2L721.2 645.1L714.2 650.2L716.9 642.0L709.9 636.9L718.5 636.9Z"/>
<path d="M730.0 640.8L732.7 649.0L741.3 649.0L734.3 654.1L737.0 662.3L730.0 657.2L723.0 662.3L725.7 654.1L718.7 649.0L727.4 649.0Z"/>
<path d="M738.9 640.9L741.5 649.1L750.2 649.1L743.2 654.2L745.9 662.4L738.9 657.3L731.9 662.4L734.5 654.2L727.6 649.1L736.2 649.1Z"/>
<path d="M747.7 641.8L750.4 650.0L759.0 650.0L752.0 655.1L754.7 663.3L747.7 658.3L740.7 663.3L743.4 655.1L736.4 650.0L745.0 650.0Z"/>
<path d="M756.6 641.6L759.2 649.8L767.9 649.8L760.9 654.9L763.6 663.1L756.6 658.1L749.6 663.1L752.2 654.9L745.2 649.8L753.9 649.8Z"/>
<path d="M765.4 641.7L768.1 649.9L776.7 649.9L769.7 655.0L772.4 663.2L765.4 658.2L758.4 663.2L761.1 655.0L754.1 649.9L762.7 649.9Z"/>
<path d="M774.3 641.8L776.9 650.0L785.6 650.0L778.6 655.1L781.3 663.3L774.3 658.3L767.3 663.3L769.9 655.1L762.9 650.0L771.6 650.0Z"/>
<path d="M783.1 641.9L785.8 650.1L794.4 650.1L787.4 655.2L790.1 663.4L783.1 658.4L776.1 663.4L778.8 655.2L771.8 650.1L780.4 650.1Z"/>
<path d="M791.9 647.4L794.6 655.6L803.3 655.6L796.3 660.7L798.9 668.9L791.9 663.9L785.0 668.9L787.6 660.7L780.6 655.6L789.3 655.6Z"/>
<path d="M800.8 898.1L803.5 906.3L812.1 906.3L805.1 911.4L807.8 919.6L800.8 914.5L793.8 919.6L796.5 911.4L789.5 906.3L798.1 906.3Z"/>
<path d="M809.6 646.7L812.3 654.9L821.0 654.9L814.0 660.0L816.6 668.2L809.6 663.1L802.6 668.2L805.3 660.0L798.3 654.9L807.0 654.9Z"/>
<path d="M818.5 645.9L821.2 654.1L829.8 654.1L822.8 659.2L825.5 667.4L818.5 662.3L811.5 667.4L814.2 659.2L807.2 654.1L815.8 654.1Z"/>
<path d="M827.3 645.8L830.0 654.1L838.7 654.1L831.7 659.1L834.3 667.4L827.3 662.3L820.3 667.4L823.0 659.1L816.0 654.1L824.7 654.1Z"/>
<path d="M836.2 645.9L838.9 654.1L847.5 654.1L840.5 659.2L843.2 667.4L836.2 662.3L829.2 667.4L831.9 659.2L824.9 654.1L833.5 654.1Z"/>
<path d="M845.0 646.4L847.7 654.7L856.3 654.7L849.3 659.7L852.0 668.0L845.0 662.9L838.0 668.0L840.7 659.7L833.7 654.7L842.4 654.7Z"/>
<path d="M853.9 645.9L856.5 654.1L865.2 654.1L858.2 659.2L860.9 667.4L853.9 662.3L846.9 667.4L849.5 659.2L842.6 654.1L851.2 654.1Z"/>
<path d="M862.7 645.8L865.4 654.1L874.0 654.1L867.0 659.1L869.7 667.4L862.7 662.3L855.7 667.4L858.4 659.1L851.4 654.1L860.0 654.1Z"/>
<path d="M871.6 645.9L874.2 654.1L882.9 654.1L875.9 659.2L878.6 667.4L871.6 662.3L864.6 667.4L867.2 659.2L860.2 654.1L868.9 654.1Z"/>
<path d="M880.4 646.3L883.1 654.5L891.7 654.5L884.7 659.6L887.4 667.8L880.4 662.7L873.4 667.8L876.1 659.6L869.1 654.5L877.7 654.5Z"/>
<path d="M889.3 646.2L891.9 654.5L900.6 654.5L893.6 659.5L896.3 667.8L889.3 662.7L882.3 667.8L884.9 659.5L877.9 654.5L886.6 654.5Z"/>
<path d="M898.1 646.3L900.8 654.5L909.4 654.5L902.4 659.6L905.1 667.8L898.1 662.7L891.1 667.8L893.8 659.6L886.8 654.5L895.4 654.5Z"/>
<path d="M906.9 646.3L909.6 654.6L918.3 654.6L911.3 659.6L913.9 667.9L906.9 662.8L900.0 667.9L902.6 659.6L895.6 654.6L904.3 654.6Z"/>
<path d="M915.8 651.3L918.5 659.6L927.1 659.6L920.1 664.6L922.8 672.9L915.8 667.8L908.8 672.9L911.5 664.6L904.5 659.6L913.1 659.6Z"/>
<path d="M924.6 651.9L927.3 660.1L936.0 660.1L929.0 665.2L931.6 673.4L924.6 668.4L917.6 673.4L920.3 665.2L913.3 660.1L922.0 660.1Z"/>
<path d="M933.5 652.0L936.2 660.2L944.8 660.2L937.8 665.3L940.5 673.5L933.5 668.4L926.5 673.5L929.2 665.3L922.2 660.2L930.8 660.2Z"/>
<path d="M942.3 645.8L945.0 654.0L953.7 654.0L946.7 659.1L949.3 667.3L942.3 662.2L935.3 667.3L938.0 659.1L931.0 654.0L939.7 654.0Z"/>
</g>
<g fill="#0000ff" stroke="#000" stroke-width="0.9" stroke-linejoin="miter">
<path d="M261.2 862.5L272.9 883.4L249.5 883.4Z"/>
<path d="M270.0 885.0L281.7 905.9L258.3 905.9Z"/>
<path d="M278.9 881.3L290.6 902.2L267.2 902.2Z"/>
<path d="M287.7 881.6L299.4 902.5L276.0 902.5Z"/>
<path d="M296.6 877.7L308.3 898.6L284.9 898.6Z"/>
<path d="M305.4 877.7L317.1 898.6L293.7 898.6Z"/>
<path d="M314.3 881.3L326.0 902.2L302.6 902.2Z"/>
<path d="M323.1 877.4L334.8 898.3L311.4 898.3Z"/>
<path d="M331.9 879.8L343.6 900.7L320.2 900.7Z"/>
<path d="M340.8 876.0L352.5 896.9L329.1 896.9Z"/>
<path d="M349.6 879.5L361.3 900.4L337.9 900.4Z"/>
<path d="M358.5 879.5L370.2 900.4L346.8 900.4Z"/>
<path d="M367.3 879.5L379.0 900.4L355.6 900.4Z"/>
<path d="M376.2 879.9L387.9 900.8L364.5 900.8Z"/>
<path d="M385.0 881.1L396.7 902.0L373.3 902.0Z"/>
<path d="M393.9 880.7L405.6 901.6L382.2 901.6Z"/>
<path d="M402.7 881.1L414.4 902.0L391.0 902.0Z"/>
<path d="M411.6 881.1L423.3 902.0L399.9 902.0Z"/>
<path d="M420.4 877.3L432.1 898.2L408.7 898.2Z"/>
<path d="M429.3 880.9L441.0 901.8L417.6 901.8Z"/>
<path d="M438.1 880.9L449.8 901.8L426.4 901.8Z"/>
<path d="M446.9 880.6L458.6 901.5L435.2 901.5Z"/>
<path d="M455.8 880.7L467.5 901.6L444.1 901.6Z"/>
<path d="M464.6 882.4L476.3 903.3L452.9 903.3Z"/>
<path d="M473.5 881.2L485.2 902.1L461.8 902.1Z"/>
<path d="M482.3 881.0L494.0 901.9L470.6 901.9Z"/>
<path d="M491.2 869.1L502.9 890.0L479.5 890.0Z"/>
<path d="M500.0 882.4L511.7 903.3L488.3 903.3Z"/>
<path d="M508.9 882.1L520.6 903.0L497.2 903.0Z"/>
<path d="M517.7 884.2L529.4 905.1L506.0 905.1Z"/>
<path d="M526.6 884.4L538.3 905.3L514.9 905.3Z"/>
<path d="M535.4 884.4L547.1 905.3L523.7 905.3Z"/>
<path d="M544.3 884.4L556.0 905.3L532.6 905.3Z"/>
<path d="M553.1 884.4L564.8 905.3L541.4 905.3Z"/>
<path d="M561.9 888.0L573.6 908.9L550.2 908.9Z"/>
<path d="M570.8 884.1L582.5 905.0L559.1 905.0Z"/>
<path d="M579.6 884.3L591.3 905.2L567.9 905.2Z"/>
<path d="M588.5 884.3L600.2 905.2L576.8 905.2Z"/>
<path d="M597.3 884.4L609.0 905.3L585.6 905.3Z"/>
<path d="M606.2 887.8L617.9 908.7L594.5 908.7Z"/>
<path d="M615.0 884.3L626.7 905.2L603.3 905.2Z"/>
<path d="M623.9 888.1L635.6 909.0L612.2 909.0Z"/>
<path d="M632.7 888.9L644.4 909.8L621.0 909.8Z"/>
<path d="M641.6 881.5L653.3 902.4L629.9 902.4Z"/>
<path d="M650.4 879.5L662.1 900.4L638.7 900.4Z"/>
<path d="M659.3 882.0L671.0 902.9L647.6 902.9Z"/>
<path d="M668.1 884.4L679.8 905.3L656.4 905.3Z"/>
<path d="M676.9 880.9L688.6 901.8L665.2 901.8Z"/>
<path d="M685.8 881.9L697.5 902.8L674.1 902.8Z"/>
<path d="M694.6 884.3L706.3 905.2L682.9 905.2Z"/>
<path d="M703.5 880.2L715.2 901.1L691.8 901.1Z"/>
<path d="M712.3 884.1L724.0 905.0L700.6 905.0Z"/>
<path d="M721.2 870.3L732.9 891.2L709.5 891.2Z"/>
<path d="M730.0 879.7L741.7 900.6L718.3 900.6Z"/>
<path d="M738.9 882.1L750.6 903.0L727.2 903.0Z"/>
<path d="M747.7 882.1L759.4 903.0L736.0 903.0Z"/>
<path d="M756.6 882.3L768.3 903.2L744.9 903.2Z"/>
<path d="M765.4 882.3L777.1 903.2L753.7 903.2Z"/>
<path d="M774.3 885.9L786.0 906.8L762.6 906.8Z"/>
<path d="M783.1 882.2L794.8 903.1L771.4 903.1Z"/>
<path d="M791.9 882.2L803.6 903.1L780.2 903.1Z"/>
<path d="M800.8 884.2L812.5 905.1L789.1 905.1Z"/>
<path d="M809.6 880.8L821.3 901.7L797.9 901.7Z"/>
<path d="M818.5 884.2L830.2 905.1L806.8 905.1Z"/>
<path d="M827.3 884.2L839.0 905.1L815.6 905.1Z"/>
<path d="M836.2 884.1L847.9 905.0L824.5 905.0Z"/>
<path d="M845.0 882.0L856.7 902.9L833.3 902.9Z"/>
<path d="M853.9 882.6L865.6 903.5L842.2 903.5Z"/>
<path d="M862.7 886.8L874.4 907.7L851.0 907.7Z"/>
<path d="M871.6 885.5L883.3 906.4L859.9 906.4Z"/>
<path d="M880.4 882.1L892.1 903.0L868.7 903.0Z"/>
<path d="M889.3 886.1L901.0 907.0L877.6 907.0Z"/>
<path d="M898.1 885.4L909.8 906.3L886.4 906.3Z"/>
<path d="M906.9 886.7L918.6 907.6L895.2 907.6Z"/>
<path d="M915.8 884.5L927.5 905.4L904.1 905.4Z"/>
<path d="M924.6 884.8L936.3 905.7L912.9 905.7Z"/>
<path d="M933.5 884.3L945.2 905.2L921.8 905.2Z"/>
<path d="M942.3 885.4L954.0 906.3L930.6 906.3Z"/>
</g>
<g fill="#ff0000" stroke="#000" stroke-width="0.9" stroke-linejoin="miter">
<circle cx="261.2" cy="562.0" r="9.5"/>
<circle cx="270.0" cy="553.2" r="9.5"/>
<circle cx="278.9" cy="553.4" r="9.5"/>
<circle cx="287.7" cy="553.0" r="9.5"/>
<circle cx="296.6" cy="546.9" r="9.5"/>
<circle cx="305.4" cy="552.3" r="9.5"/>
<circle cx="314.3" cy="545.5" r="9.5"/>
<circle cx="323.1" cy="552.2" r="9.5"/>
<circle cx="331.9" cy="544.9" r="9.5"/>
<circle cx="340.8" cy="550.6" r="9.5"/>
<circle cx="349.6" cy="547.1" r="9.5"/>
<circle cx="358.5" cy="551.0" r="9.5"/>
<circle cx="367.3" cy="550.3" r="9.5"/>
<circle cx="376.2" cy="550.1" r="9.5"/>
<circle cx="385.0" cy="551.0" r="9.5"/>
<circle cx="393.9" cy="545.2" r="9.5"/>
<circle cx="402.7" cy="550.3" r="9.5"/>
<circle cx="411.6" cy="549.5" r="9.5"/>
<circle cx="420.4" cy="553.9" r="9.5"/>
<circle cx="429.3" cy="548.9" r="9.5"/>
<circle cx="438.1" cy="549.2" r="9.5"/>
<circle cx="446.9" cy="550.6" r="9.5"/>
<circle cx="455.8" cy="551.0" r="9.5"/>
<circle cx="464.6" cy="554.9" r="9.5"/>
<circle cx="473.5" cy="548.3" r="9.5"/>
<circle cx="482.3" cy="554.0" r="9.5"/>
<circle cx="491.2" cy="557.2" r="9.5"/>
<circle cx="500.0" cy="558.8" r="9.5"/>
<circle cx="508.9" cy="554.3" r="9.5"/>
<circle cx="517.7" cy="547.5" r="9.5"/>
<circle cx="526.6" cy="558.1" r="9.5"/>
<circle cx="535.4" cy="551.9" r="9.5"/>
<circle cx="544.3" cy="552.8" r="9.5"/>
<circle cx="553.1" cy="550.5" r="9.5"/>
<circle cx="561.9" cy="554.7" r="9.5"/>
<circle cx="570.8" cy="556.1" r="9.5"/>
<circle cx="579.6" cy="547.7" r="9.5"/>
<circle cx="588.5" cy="553.4" r="9.5"/>
<circle cx="597.3" cy="547.3" r="9.5"/>
<circle cx="606.2" cy="553.7" r="9.5"/>
<circle cx="615.0" cy="549.0" r="9.5"/>
<circle cx="623.9" cy="554.2" r="9.5"/>
<circle cx="632.7" cy="547.8" r="9.5"/>
<circle cx="641.6" cy="554.3" r="9.5"/>
<circle cx="650.4" cy="554.1" r="9.5"/>
<circle cx="659.3" cy="547.8" r="9.5"/>
<circle cx="668.1" cy="554.3" r="9.5"/>
<circle cx="676.9" cy="554.2" r="9.5"/>
<circle cx="685.8" cy="551.4" r="9.5"/>
<circle cx="694.6" cy="554.1" r="9.5"/>
<circle cx="703.5" cy="547.8" r="9.5"/>
<circle cx="712.3" cy="555.1" r="9.5"/>
<circle cx="721.2" cy="558.8" r="9.5"/>
<circle cx="730.0" cy="554.1" r="9.5"/>
<circle cx="738.9" cy="554.1" r="9.5"/>
<circle cx="747.7" cy="547.1" r="9.5"/>
<circle cx="756.6" cy="547.8" r="9.5"/>
<circle cx="765.4" cy="554.2" r="9.5"/>
<circle cx="774.3" cy="554.1" r="9.5"/>
<circle cx="783.1" cy="554.0" r="9.5"/>
<circle cx="791.9" cy="547.5" r="9.5"/>
<circle cx="800.8" cy="553.8" r="9.5"/>
<circle cx="809.6" cy="553.9" r="9.5"/>
<circle cx="818.5" cy="553.9" r="9.5"/>
<circle cx="827.3" cy="554.6" r="9.5"/>
<circle cx="836.2" cy="549.5" r="9.5"/>
<circle cx="845.0" cy="555.0" r="9.5"/>
<circle cx="853.9" cy="553.4" r="9.5"/>
<circle cx="862.7" cy="552.1" r="9.5"/>
<circle cx="871.6" cy="547.5" r="9.5"/>
<circle cx="880.4" cy="547.5" r="9.5"/>
<circle cx="889.3" cy="553.6" r="9.5"/>
<circle cx="898.1" cy="553.8" r="9.5"/>
<circle cx="906.9" cy="555.1" r="9.5"/>
<circle cx="915.8" cy="554.0" r="9.5"/>
<circle cx="924.6" cy="554.4" r="9.5"/>
<circle cx="933.5" cy="553.6" r="9.5"/>
<circle cx="942.3" cy="550.3" r="9.5"/>
<circle cx="951.2" cy="560.5" r="9.5"/>
<circle cx="960.0" cy="560.5" r="9.5"/>
</g></g>
<g id="panel-c"><g fill="#9900cc" stroke="#000" stroke-width="0.9" stroke-linejoin="miter">
<path d="M261.2 957.7L263.8 965.9L272.5 965.9L265.5 971.0L268.2 979.2L261.2 974.1L254.2 979.2L256.8 971.0L249.9 965.9L258.5 965.9Z"/>
<path d="M270.0 1170.5L272.7 1178.7L281.3 1178.7L274.3 1183.8L277.0 1192.0L270.0 1186.9L263.0 1192.0L265.7 1183.8L258.7 1178.7L267.3 1178.7Z"/>
<path d="M287.7 1171.4L290.4 1179.6L299.0 1179.6L292.0 1184.7L294.7 1192.9L287.7 1187.8L280.7 1192.9L283.4 1184.7L276.4 1179.6L285.0 1179.6Z"/>
<path d="M296.6 1215.6L299.2 1223.8L307.9 1223.8L300.9 1228.9L303.6 1237.1L296.6 1232.0L289.6 1237.1L292.2 1228.9L285.2 1223.8L293.9 1223.8Z"/>
<path d="M305.4 1167.4L308.1 1175.6L316.7 1175.6L309.7 1180.7L312.4 1188.9L305.4 1183.8L298.4 1188.9L301.1 1180.7L294.1 1175.6L302.7 1175.6Z"/>
<path d="M314.3 1212.8L316.9 1221.0L325.6 1221.0L318.6 1226.1L321.2 1234.3L314.3 1229.2L307.3 1234.3L309.9 1226.1L302.9 1221.0L311.6 1221.0Z"/>
<path d="M323.1 1169.9L325.8 1178.1L334.4 1178.1L327.4 1183.2L330.1 1191.4L323.1 1186.3L316.1 1191.4L318.8 1183.2L311.8 1178.1L320.4 1178.1Z"/>
<path d="M331.9 1197.9L334.6 1206.1L343.3 1206.1L336.3 1211.2L338.9 1219.4L331.9 1214.3L324.9 1219.4L327.6 1211.2L320.6 1206.1L329.3 1206.1Z"/>
<path d="M340.8 1244.3L343.5 1252.5L352.1 1252.5L345.1 1257.6L347.8 1265.8L340.8 1260.7L333.8 1265.8L336.5 1257.6L329.5 1252.5L338.1 1252.5Z"/>
<path d="M349.6 1247.1L352.3 1255.3L361.0 1255.3L354.0 1260.4L356.6 1268.6L349.6 1263.5L342.6 1268.6L345.3 1260.4L338.3 1255.3L347.0 1255.3Z"/>
<path d="M358.5 1193.6L361.2 1201.8L369.8 1201.8L362.8 1206.9L365.5 1215.1L358.5 1210.0L351.5 1215.1L354.2 1206.9L347.2 1201.8L355.8 1201.8Z"/>
<path d="M367.3 1194.3L370.0 1202.5L378.6 1202.5L371.7 1207.6L374.3 1215.8L367.3 1210.7L360.3 1215.8L363.0 1207.6L356.0 1202.5L364.7 1202.5Z"/>
<path d="M376.2 1237.1L378.8 1245.3L387.5 1245.3L380.5 1250.4L383.2 1258.6L376.2 1253.5L369.2 1258.6L371.9 1250.4L364.9 1245.3L373.5 1245.3Z"/>
<path d="M385.0 1226.0L387.7 1234.2L396.3 1234.2L389.3 1239.3L392.0 1247.5L385.0 1242.4L378.0 1247.5L380.7 1239.3L373.7 1234.2L382.3 1234.2Z"/>
<path d="M393.9 1205.6L396.5 1213.8L405.2 1213.8L398.2 1218.9L400.9 1227.1L393.9 1222.0L386.9 1227.1L389.5 1218.9L382.5 1213.8L391.2 1213.8Z"/>
<path d="M402.7 1244.7L405.4 1252.9L414.0 1252.9L407.0 1258.0L409.7 1266.2L402.7 1261.1L395.7 1266.2L398.4 1258.0L391.4 1252.9L400.0 1252.9Z"/>
<path d="M411.6 1224.0L414.2 1232.2L422.9 1232.2L415.9 1237.3L418.6 1245.5L411.6 1240.4L404.6 1245.5L407.2 1237.3L400.2 1232.2L408.9 1232.2Z"/>
<path d="M420.4 1225.4L423.1 1233.6L431.7 1233.6L424.7 1238.7L427.4 1246.9L420.4 1241.8L413.4 1246.9L416.1 1238.7L409.1 1233.6L417.7 1233.6Z"/>
<path d="M429.3 1268.1L431.9 1276.3L440.6 1276.3L433.6 1281.4L436.2 1289.6L429.3 1284.5L422.3 1289.6L424.9 1281.4L417.9 1276.3L426.6 1276.3Z"/>
<path d="M438.1 1225.5L440.8 1233.7L449.4 1233.7L442.4 1238.8L445.1 1247.0L438.1 1241.9L431.1 1247.0L433.8 1238.8L426.8 1233.7L435.4 1233.7Z"/>
<path d="M446.9 1224.9L449.6 1233.1L458.3 1233.1L451.3 1238.2L453.9 1246.4L446.9 1241.3L439.9 1246.4L442.6 1238.2L435.6 1233.1L444.3 1233.1Z"/>
<path d="M455.8 1226.0L458.5 1234.2L467.1 1234.2L460.1 1239.3L462.8 1247.5L455.8 1242.4L448.8 1247.5L451.5 1239.3L444.5 1234.2L453.1 1234.2Z"/>
<path d="M464.6 1271.3L467.3 1279.5L476.0 1279.5L469.0 1284.6L471.6 1292.8L464.6 1287.7L457.6 1292.8L460.3 1284.6L453.3 1279.5L462.0 1279.5Z"/>
<path d="M473.5 1271.0L476.2 1279.2L484.8 1279.2L477.8 1284.3L480.5 1292.5L473.5 1287.4L466.5 1292.5L469.2 1284.3L462.2 1279.2L470.8 1279.2Z"/>
<path d="M482.3 1268.6L485.0 1276.8L493.6 1276.8L486.7 1281.9L489.3 1290.1L482.3 1285.0L475.3 1290.1L478.0 1281.9L471.0 1276.8L479.7 1276.8Z"/>
<path d="M491.2 1104.3L493.8 1112.5L502.5 1112.5L495.5 1117.6L498.2 1125.8L491.2 1120.7L484.2 1125.8L486.9 1117.6L479.9 1112.5L488.5 1112.5Z"/>
<path d="M500.0 1267.4L502.7 1275.6L511.3 1275.6L504.3 1280.7L507.0 1288.9L500.0 1283.8L493.0 1288.9L495.7 1280.7L488.7 1275.6L497.3 1275.6Z"/>
<path d="M508.9 1247.1L511.5 1255.3L520.2 1255.3L513.2 1260.4L515.9 1268.6L508.9 1263.5L501.9 1268.6L504.5 1260.4L497.6 1255.3L506.2 1255.3Z"/>
<path d="M517.7 1285.4L520.4 1293.6L529.0 1293.6L522.0 1298.7L524.7 1306.9L517.7 1301.8L510.7 1306.9L513.4 1298.7L506.4 1293.6L515.0 1293.6Z"/>
<path d="M526.6 1240.4L529.2 1248.6L537.9 1248.6L530.9 1253.7L533.6 1261.9L526.6 1256.8L519.6 1261.9L522.2 1253.7L515.2 1248.6L523.9 1248.6Z"/>
<path d="M535.4 1226.4L538.1 1234.6L546.7 1234.6L539.7 1239.7L542.4 1247.9L535.4 1242.8L528.4 1247.9L531.1 1239.7L524.1 1234.6L532.7 1234.6Z"/>
<path d="M544.3 1257.9L546.9 1266.1L555.6 1266.1L548.6 1271.2L551.2 1279.4L544.3 1274.3L537.3 1279.4L539.9 1271.2L532.9 1266.1L541.6 1266.1Z"/>
<path d="M553.1 1246.7L555.8 1254.9L564.4 1254.9L557.4 1260.0L560.1 1268.2L553.1 1263.1L546.1 1268.2L548.8 1260.0L541.8 1254.9L550.4 1254.9Z"/>
<path d="M561.9 1245.8L564.6 1254.0L573.3 1254.0L566.3 1259.1L568.9 1267.3L561.9 1262.2L555.0 1267.3L557.6 1259.1L550.6 1254.0L559.3 1254.0Z"/>
<path d="M570.8 1247.1L573.5 1255.3L582.1 1255.3L575.1 1260.4L577.8 1268.6L570.8 1263.5L563.8 1268.6L566.5 1260.4L559.5 1255.3L568.1 1255.3Z"/>
<path d="M579.6 1247.6L582.3 1255.8L591.0 1255.8L584.0 1260.9L586.6 1269.1L579.6 1264.0L572.6 1269.1L575.3 1260.9L568.3 1255.8L577.0 1255.8Z"/>
<path d="M588.5 1247.6L591.2 1255.8L599.8 1255.8L592.8 1260.9L595.5 1269.1L588.5 1264.0L581.5 1269.1L584.2 1260.9L577.2 1255.8L585.8 1255.8Z"/>
<path d="M597.3 1246.7L600.0 1254.9L608.6 1254.9L601.7 1260.0L604.3 1268.2L597.3 1263.1L590.3 1268.2L593.0 1260.0L586.0 1254.9L594.7 1254.9Z"/>
<path d="M606.2 1245.3L608.8 1253.5L617.5 1253.5L610.5 1258.6L613.2 1266.8L606.2 1261.7L599.2 1266.8L601.9 1258.6L594.9 1253.5L603.5 1253.5Z"/>
<path d="M615.0 1241.6L617.7 1249.8L626.3 1249.8L619.3 1254.9L622.0 1263.1L615.0 1258.0L608.0 1263.1L610.7 1254.9L603.7 1249.8L612.4 1249.8Z"/>
<path d="M623.9 1244.3L626.5 1252.5L635.2 1252.5L628.2 1257.6L630.9 1265.8L623.9 1260.7L616.9 1265.8L619.5 1257.6L612.6 1252.5L621.2 1252.5Z"/>
<path d="M632.7 1244.3L635.4 1252.5L644.0 1252.5L637.0 1257.6L639.7 1265.8L632.7 1260.7L625.7 1265.8L628.4 1257.6L621.4 1252.5L630.0 1252.5Z"/>
<path d="M641.6 1289.7L644.2 1297.9L652.9 1297.9L645.9 1303.0L648.6 1311.2L641.6 1306.1L634.6 1311.2L637.2 1303.0L630.2 1297.9L638.9 1297.9Z"/>
<path d="M650.4 1288.4L653.1 1296.6L661.7 1296.6L654.7 1301.7L657.4 1309.9L650.4 1304.8L643.4 1309.9L646.1 1301.7L639.1 1296.6L647.7 1296.6Z"/>
<path d="M659.3 1250.1L661.9 1258.3L670.6 1258.3L663.6 1263.4L666.2 1271.6L659.3 1266.5L652.3 1271.6L654.9 1263.4L647.9 1258.3L656.6 1258.3Z"/>
<path d="M668.1 1250.6L670.8 1258.8L679.4 1258.8L672.4 1263.9L675.1 1272.1L668.1 1267.0L661.1 1272.1L663.8 1263.9L656.8 1258.8L665.4 1258.8Z"/>
<path d="M676.9 1260.5L679.6 1268.7L688.3 1268.7L681.3 1273.8L683.9 1282.0L676.9 1276.9L670.0 1282.0L672.6 1273.8L665.6 1268.7L674.3 1268.7Z"/>
<path d="M685.8 1252.4L688.5 1260.6L697.1 1260.6L690.1 1265.7L692.8 1273.9L685.8 1268.8L678.8 1273.9L681.5 1265.7L674.5 1260.6L683.1 1260.6Z"/>
<path d="M694.6 1242.5L697.3 1250.7L706.0 1250.7L699.0 1255.8L701.6 1264.0L694.6 1258.9L687.6 1264.0L690.3 1255.8L683.3 1250.7L692.0 1250.7Z"/>
<path d="M703.5 1244.3L706.2 1252.5L714.8 1252.5L707.8 1257.6L710.5 1265.8L703.5 1260.7L696.5 1265.8L699.2 1257.6L692.2 1252.5L700.8 1252.5Z"/>
<path d="M712.3 1233.9L715.0 1242.1L723.6 1242.1L716.7 1247.2L719.3 1255.4L712.3 1250.3L705.3 1255.4L708.0 1247.2L701.0 1242.1L709.7 1242.1Z"/>
<path d="M721.2 1119.2L723.9 1127.4L732.5 1127.4L725.5 1132.5L728.2 1140.7L721.2 1135.6L714.2 1140.7L716.9 1132.5L709.9 1127.4L718.5 1127.4Z"/>
<path d="M730.0 1226.0L732.7 1234.2L741.3 1234.2L734.3 1239.3L737.0 1247.5L730.0 1242.4L723.0 1247.5L725.7 1239.3L718.7 1234.2L727.4 1234.2Z"/>
<path d="M738.9 1227.2L741.5 1235.4L750.2 1235.4L743.2 1240.5L745.9 1248.7L738.9 1243.6L731.9 1248.7L734.5 1240.5L727.6 1235.4L736.2 1235.4Z"/>
<path d="M747.7 1235.3L750.4 1243.5L759.0 1243.5L752.0 1248.6L754.7 1256.8L747.7 1251.7L740.7 1256.8L743.4 1248.6L736.4 1243.5L745.0 1243.5Z"/>
<path d="M756.6 1233.5L759.2 1241.7L767.9 1241.7L760.9 1246.8L763.6 1255.0L756.6 1249.9L749.6 1255.0L752.2 1246.8L745.2 1241.7L753.9 1241.7Z"/>
<path d="M765.4 1234.4L768.1 1242.6L776.7 1242.6L769.7 1247.7L772.4 1255.9L765.4 1250.8L758.4 1255.9L761.1 1247.7L754.1 1242.6L762.7 1242.6Z"/>
<path d="M774.3 1235.3L776.9 1243.5L785.6 1243.5L778.6 1248.6L781.3 1256.8L774.3 1251.7L767.3 1256.8L769.9 1248.6L762.9 1243.5L771.6 1243.5Z"/>
<path d="M783.1 1236.2L785.8 1244.4L794.4 1244.4L787.4 1249.5L790.1 1257.7L783.1 1252.6L776.1 1257.7L778.8 1249.5L771.8 1244.4L780.4 1244.4Z"/>
<path d="M791.9 1284.7L794.6 1292.9L803.3 1292.9L796.3 1298.0L798.9 1306.2L791.9 1301.1L785.0 1306.2L787.6 1298.0L780.6 1292.9L789.3 1292.9Z"/>
<path d="M805.2 1278.3L807.9 1286.5L816.5 1286.5L809.5 1291.6L812.2 1299.8L805.2 1294.7L798.2 1299.8L800.9 1291.6L793.9 1286.5L802.5 1286.5Z"/>
<path d="M814.1 1271.4L816.7 1279.6L825.4 1279.6L818.4 1284.7L821.1 1292.9L814.1 1287.8L807.1 1292.9L809.7 1284.7L802.7 1279.6L811.4 1279.6Z"/>
<path d="M822.9 1270.9L825.6 1279.1L834.2 1279.1L827.2 1284.2L829.9 1292.4L822.9 1287.3L815.9 1292.4L818.6 1284.2L811.6 1279.1L820.2 1279.1Z"/>
<path d="M831.8 1271.4L834.4 1279.6L843.1 1279.6L836.1 1284.7L838.8 1292.9L831.8 1287.8L824.8 1292.9L827.4 1284.7L820.4 1279.6L829.1 1279.6Z"/>
<path d="M840.6 1318.5L843.3 1326.7L851.9 1326.7L844.9 1331.8L847.6 1340.0L840.6 1334.9L833.6 1340.0L836.3 1331.8L829.3 1326.7L837.9 1326.7Z"/>
<path d="M849.4 1276.1L852.1 1284.3L860.8 1284.3L853.8 1289.4L856.4 1297.6L849.4 1292.5L842.5 1297.6L845.1 1289.4L838.1 1284.3L846.8 1284.3Z"/>
<path d="M858.3 1271.4L861.0 1279.6L869.6 1279.6L862.6 1284.7L865.3 1292.9L858.3 1287.8L851.3 1292.9L854.0 1284.7L847.0 1279.6L855.6 1279.6Z"/>
<path d="M867.1 1270.9L869.8 1279.1L878.5 1279.1L871.5 1284.2L874.1 1292.4L867.1 1287.3L860.1 1292.4L862.8 1284.2L855.8 1279.1L864.5 1279.1Z"/>
<path d="M876.0 1271.4L878.7 1279.6L887.3 1279.6L880.3 1284.7L883.0 1292.9L876.0 1287.8L869.0 1292.9L871.7 1284.7L864.7 1279.6L873.3 1279.6Z"/>
<path d="M884.8 1274.8L887.5 1283.0L896.2 1283.0L889.2 1288.1L891.8 1296.3L884.8 1291.2L877.8 1296.3L880.5 1288.1L873.5 1283.0L882.2 1283.0Z"/>
<path d="M893.7 1274.3L896.4 1282.5L905.0 1282.5L898.0 1287.6L900.7 1295.8L893.7 1290.7L886.7 1295.8L889.4 1287.6L882.4 1282.5L891.0 1282.5Z"/>
<path d="M902.5 1274.8L905.2 1283.0L913.8 1283.0L906.8 1288.1L909.5 1296.3L902.5 1291.2L895.5 1296.3L898.2 1288.1L891.2 1283.0L899.9 1283.0Z"/>
<path d="M911.4 1275.2L914.0 1283.4L922.7 1283.4L915.7 1288.5L918.4 1296.7L911.4 1291.6L904.4 1296.7L907.0 1288.5L900.1 1283.4L908.7 1283.4Z"/>
<path d="M920.2 1319.5L922.9 1327.7L931.5 1327.7L924.5 1332.8L927.2 1341.0L920.2 1335.9L913.2 1341.0L915.9 1332.8L908.9 1327.7L917.5 1327.7Z"/>
<path d="M929.1 1324.6L931.7 1332.8L940.4 1332.8L933.4 1337.9L936.1 1346.1L929.1 1341.0L922.1 1346.1L924.7 1337.9L917.7 1332.8L926.4 1332.8Z"/>
<path d="M937.9 1278.1L940.6 1286.3L949.2 1286.3L942.2 1291.4L944.9 1299.6L937.9 1294.5L930.9 1299.6L933.6 1291.4L926.6 1286.3L935.2 1286.3Z"/>
<path d="M946.8 1270.5L949.4 1278.7L958.1 1278.7L951.1 1283.8L953.8 1292.0L946.8 1286.9L939.8 1292.0L942.4 1283.8L935.4 1278.7L944.1 1278.7Z"/>
</g>
<g fill="#0000ff" stroke="#000" stroke-width="0.9" stroke-linejoin="miter">
<path d="M270.0 1170.3L281.7 1191.2L258.3 1191.2Z"/>
<path d="M278.9 1119.0L290.6 1139.9L267.2 1139.9Z"/>
<path d="M287.7 1123.5L299.4 1144.4L276.0 1144.4Z"/>
<path d="M296.6 1068.0L308.3 1088.9L284.9 1088.9Z"/>
<path d="M305.4 1068.6L317.1 1089.5L293.7 1089.5Z"/>
<path d="M314.3 1118.6L326.0 1139.5L302.6 1139.5Z"/>
<path d="M323.1 1065.0L334.8 1085.9L311.4 1085.9Z"/>
<path d="M331.9 1098.3L343.6 1119.2L320.2 1119.2Z"/>
<path d="M340.8 1044.8L352.5 1065.7L329.1 1065.7Z"/>
<path d="M349.6 1093.8L361.3 1114.7L337.9 1114.7Z"/>
<path d="M358.5 1093.2L370.2 1114.1L346.8 1114.1Z"/>
<path d="M367.3 1094.3L379.0 1115.2L355.6 1115.2Z"/>
<path d="M376.2 1098.8L387.9 1119.7L364.5 1119.7Z"/>
<path d="M385.0 1116.8L396.7 1137.7L373.3 1137.7Z"/>
<path d="M393.9 1110.0L405.6 1130.9L382.2 1130.9Z"/>
<path d="M402.7 1115.9L414.4 1136.8L391.0 1136.8Z"/>
<path d="M411.6 1116.3L423.3 1137.2L399.9 1137.2Z"/>
<path d="M420.4 1063.2L432.1 1084.1L408.7 1084.1Z"/>
<path d="M429.3 1113.6L441.0 1134.5L417.6 1134.5Z"/>
<path d="M438.1 1113.6L449.8 1134.5L426.4 1134.5Z"/>
<path d="M446.9 1109.1L458.6 1130.0L435.2 1130.0Z"/>
<path d="M455.8 1110.5L467.5 1131.4L444.1 1131.4Z"/>
<path d="M464.6 1134.3L476.3 1155.2L452.9 1155.2Z"/>
<path d="M473.5 1118.1L485.2 1139.0L461.8 1139.0Z"/>
<path d="M482.3 1115.4L494.0 1136.3L470.6 1136.3Z"/>
<path d="M491.2 948.5L502.9 969.4L479.5 969.4Z"/>
<path d="M500.0 1134.1L511.7 1155.0L488.3 1155.0Z"/>
<path d="M508.9 1130.3L520.6 1151.2L497.2 1151.2Z"/>
<path d="M517.7 1159.7L529.4 1180.6L506.0 1180.6Z"/>
<path d="M526.6 1162.2L538.3 1183.1L514.9 1183.1Z"/>
<path d="M535.4 1161.8L547.1 1182.7L523.7 1182.7Z"/>
<path d="M544.3 1162.3L556.0 1183.2L532.6 1183.2Z"/>
<path d="M553.1 1161.8L564.8 1182.7L541.4 1182.7Z"/>
<path d="M561.9 1213.3L573.6 1234.2L550.2 1234.2Z"/>
<path d="M570.8 1158.6L582.5 1179.5L559.1 1179.5Z"/>
<path d="M579.6 1160.9L591.3 1181.8L567.9 1181.8Z"/>
<path d="M588.5 1161.6L600.2 1182.5L576.8 1182.5Z"/>
<path d="M597.3 1162.2L609.0 1183.1L585.6 1183.1Z"/>
<path d="M606.2 1210.6L617.9 1231.5L594.5 1231.5Z"/>
<path d="M615.0 1161.5L626.7 1182.4L603.3 1182.4Z"/>
<path d="M623.9 1213.8L635.6 1234.7L612.2 1234.7Z"/>
<path d="M632.7 1225.2L644.4 1246.1L621.0 1246.1Z"/>
<path d="M641.6 1122.3L653.3 1143.2L629.9 1143.2Z"/>
<path d="M650.4 1093.8L662.1 1114.7L638.7 1114.7Z"/>
<path d="M659.3 1129.4L671.0 1150.3L647.6 1150.3Z"/>
<path d="M668.1 1162.2L679.8 1183.1L656.4 1183.1Z"/>
<path d="M676.9 1113.6L688.6 1134.5L665.2 1134.5Z"/>
<path d="M685.8 1127.1L697.5 1148.0L674.1 1148.0Z"/>
<path d="M694.6 1161.5L706.3 1182.4L682.9 1182.4Z"/>
<path d="M703.5 1103.3L715.2 1124.2L691.8 1124.2Z"/>
<path d="M712.3 1158.0L724.0 1178.9L700.6 1178.9Z"/>
<path d="M721.2 965.1L732.9 986.0L709.5 986.0Z"/>
<path d="M730.0 1096.1L741.7 1117.0L718.3 1117.0Z"/>
<path d="M738.9 1130.9L750.6 1151.8L727.2 1151.8Z"/>
<path d="M747.7 1130.6L759.4 1151.5L736.0 1151.5Z"/>
<path d="M756.6 1132.8L768.3 1153.7L744.9 1153.7Z"/>
<path d="M765.4 1133.0L777.1 1153.9L753.7 1153.9Z"/>
<path d="M774.3 1183.4L786.0 1204.3L762.6 1204.3Z"/>
<path d="M783.1 1132.1L794.8 1153.0L771.4 1153.0Z"/>
<path d="M791.9 1131.7L803.6 1152.6L780.2 1152.6Z"/>
<path d="M800.8 1159.6L812.5 1180.5L789.1 1180.5Z"/>
<path d="M809.6 1112.1L821.3 1133.0L797.9 1133.0Z"/>
<path d="M818.5 1159.6L830.2 1180.5L806.8 1180.5Z"/>
<path d="M827.3 1159.8L839.0 1180.7L815.6 1180.7Z"/>
<path d="M836.2 1158.8L847.9 1179.7L824.5 1179.7Z"/>
<path d="M845.0 1129.3L856.7 1150.2L833.3 1150.2Z"/>
<path d="M853.9 1137.7L865.6 1158.6L842.2 1158.6Z"/>
<path d="M862.7 1196.6L874.4 1217.5L851.0 1217.5Z"/>
<path d="M871.6 1178.6L883.3 1199.5L859.9 1199.5Z"/>
<path d="M880.4 1130.8L892.1 1151.7L868.7 1151.7Z"/>
<path d="M889.3 1186.6L901.0 1207.5L877.6 1207.5Z"/>
<path d="M898.1 1177.1L909.8 1198.0L886.4 1198.0Z"/>
<path d="M906.9 1195.0L918.6 1215.9L895.2 1215.9Z"/>
<path d="M915.8 1163.9L927.5 1184.8L904.1 1184.8Z"/>
<path d="M924.6 1167.8L936.3 1188.7L912.9 1188.7Z"/>
<path d="M933.5 1160.7L945.2 1181.6L921.8 1181.6Z"/>
<path d="M942.3 1176.8L954.0 1197.7L930.6 1197.7Z"/>
</g>
<g fill="#ff0000" stroke="#000" stroke-width="0.9" stroke-linejoin="miter">
<circle cx="261.2" cy="1251.4" r="9.5"/>
<circle cx="270.0" cy="1183.0" r="9.5"/>
<circle cx="278.9" cy="1184.8" r="9.5"/>
<circle cx="287.7" cy="1181.6" r="9.5"/>
<circle cx="296.6" cy="1134.8" r="9.5"/>
<circle cx="305.4" cy="1176.2" r="9.5"/>
<circle cx="314.3" cy="1123.6" r="9.5"/>
<circle cx="323.1" cy="1175.7" r="9.5"/>
<circle cx="331.9" cy="1119.1" r="9.5"/>
<circle cx="340.8" cy="1162.8" r="9.5"/>
<circle cx="349.6" cy="1136.4" r="9.5"/>
<circle cx="358.5" cy="1166.0" r="9.5"/>
<circle cx="367.3" cy="1160.8" r="9.5"/>
<circle cx="376.2" cy="1159.0" r="9.5"/>
<circle cx="385.0" cy="1166.2" r="9.5"/>
<circle cx="393.9" cy="1121.4" r="9.5"/>
<circle cx="402.7" cy="1160.5" r="9.5"/>
<circle cx="411.6" cy="1154.4" r="9.5"/>
<circle cx="420.4" cy="1188.9" r="9.5"/>
<circle cx="429.3" cy="1150.2" r="9.5"/>
<circle cx="438.1" cy="1152.4" r="9.5"/>
<circle cx="446.9" cy="1163.2" r="9.5"/>
<circle cx="455.8" cy="1165.9" r="9.5"/>
<circle cx="464.6" cy="1196.5" r="9.5"/>
<circle cx="473.5" cy="1145.2" r="9.5"/>
<circle cx="482.3" cy="1189.8" r="9.5"/>
<circle cx="491.2" cy="1214.5" r="9.5"/>
<circle cx="500.0" cy="1226.2" r="9.5"/>
<circle cx="508.9" cy="1192.0" r="9.5"/>
<circle cx="517.7" cy="1138.9" r="9.5"/>
<circle cx="526.6" cy="1220.8" r="9.5"/>
<circle cx="535.4" cy="1173.6" r="9.5"/>
<circle cx="544.3" cy="1180.3" r="9.5"/>
<circle cx="553.1" cy="1162.3" r="9.5"/>
<circle cx="561.9" cy="1194.7" r="9.5"/>
<circle cx="570.8" cy="1205.5" r="9.5"/>
<circle cx="579.6" cy="1140.7" r="9.5"/>
<circle cx="588.5" cy="1185.2" r="9.5"/>
<circle cx="597.3" cy="1137.5" r="9.5"/>
<circle cx="606.2" cy="1187.5" r="9.5"/>
<circle cx="615.0" cy="1150.6" r="9.5"/>
<circle cx="623.9" cy="1191.1" r="9.5"/>
<circle cx="632.7" cy="1141.2" r="9.5"/>
<circle cx="641.6" cy="1191.6" r="9.5"/>
<circle cx="650.4" cy="1190.6" r="9.5"/>
<circle cx="659.3" cy="1141.2" r="9.5"/>
<circle cx="668.1" cy="1191.6" r="9.5"/>
<circle cx="676.9" cy="1191.1" r="9.5"/>
<circle cx="685.8" cy="1169.5" r="9.5"/>
<circle cx="694.6" cy="1190.6" r="9.5"/>
<circle cx="703.5" cy="1141.2" r="9.5"/>
<circle cx="712.3" cy="1198.3" r="9.5"/>
<circle cx="721.2" cy="1226.6" r="9.5"/>
<circle cx="730.0" cy="1190.6" r="9.5"/>
<circle cx="738.9" cy="1190.6" r="9.5"/>
<circle cx="747.7" cy="1136.2" r="9.5"/>
<circle cx="756.6" cy="1141.6" r="9.5"/>
<circle cx="765.4" cy="1191.1" r="9.5"/>
<circle cx="774.3" cy="1190.2" r="9.5"/>
<circle cx="783.1" cy="1189.3" r="9.5"/>
<circle cx="791.9" cy="1139.5" r="9.5"/>
<circle cx="800.8" cy="1188.2" r="9.5"/>
<circle cx="809.6" cy="1188.7" r="9.5"/>
<circle cx="818.5" cy="1188.7" r="9.5"/>
<circle cx="827.3" cy="1194.1" r="9.5"/>
<circle cx="836.2" cy="1154.4" r="9.5"/>
<circle cx="845.0" cy="1196.8" r="9.5"/>
<circle cx="853.9" cy="1185.2" r="9.5"/>
<circle cx="862.7" cy="1174.4" r="9.5"/>
<circle cx="871.6" cy="1139.2" r="9.5"/>
<circle cx="880.4" cy="1139.2" r="9.5"/>
<circle cx="889.3" cy="1186.3" r="9.5"/>
<circle cx="898.1" cy="1187.8" r="9.5"/>
<circle cx="906.9" cy="1197.7" r="9.5"/>
<circle cx="915.8" cy="1189.6" r="9.5"/>
<circle cx="924.6" cy="1192.3" r="9.5"/>
<circle cx="933.5" cy="1186.0" r="9.5"/>
<circle cx="942.3" cy="1160.8" r="9.5"/>
<circle cx="951.2" cy="1240.0" r="9.5"/>
<circle cx="960.0" cy="1240.0" r="9.5"/>
</g></g>
<g stroke="#000" stroke-width="0.9">
<circle cx="344.0" cy="733.2" r="20.6" fill="#ff0000"/>
<path d="M343.9 771.3L364.6 807.0L323.2 807.0Z" fill="#0000ff"/>
<path d="M616.8 712.6L621.4 726.8L636.3 726.8L624.2 735.5L628.8 749.7L616.8 740.9L604.8 749.7L609.4 735.5L597.3 726.8L612.2 726.8Z" fill="#9900cc"/>
</g>
<g stroke="#000" fill="none">
<line x1="345.2" y1="1.6" x2="345.2" y2="8.9" stroke-width="4.6" stroke-linecap="round"/>
<line x1="345.2" y1="467.1" x2="345.2" y2="481.7" stroke-width="4.6" stroke-linecap="round"/>
<line x1="345.2" y1="939.3" x2="345.2" y2="953.9" stroke-width="4.6" stroke-linecap="round"/>
<line x1="345.2" y1="1418.4" x2="345.2" y2="1411.1" stroke-width="4.6" stroke-linecap="round"/>
<line x1="433.7" y1="1.6" x2="433.7" y2="13.5" stroke-width="4.6" stroke-linecap="round"/>
<line x1="433.7" y1="462.5" x2="433.7" y2="486.3" stroke-width="4.6" stroke-linecap="round"/>
<line x1="433.7" y1="934.7" x2="433.7" y2="958.5" stroke-width="4.6" stroke-linecap="round"/>
<line x1="433.7" y1="1418.4" x2="433.7" y2="1406.5" stroke-width="4.6" stroke-linecap="round"/>
<line x1="522.1" y1="1.6" x2="522.1" y2="8.9" stroke-width="4.6" stroke-linecap="round"/>
<line x1="522.1" y1="467.1" x2="522.1" y2="481.7" stroke-width="4.6" stroke-linecap="round"/>
<line x1="522.1" y1="939.3" x2="522.1" y2="953.9" stroke-width="4.6" stroke-linecap="round"/>
<line x1="522.1" y1="1418.4" x2="522.1" y2="1411.1" stroke-width="4.6" stroke-linecap="round"/>
<line x1="610.6" y1="1.6" x2="610.6" y2="13.5" stroke-width="4.6" stroke-linecap="round"/>
<line x1="610.6" y1="462.5" x2="610.6" y2="486.3" stroke-width="4.6" stroke-linecap="round"/>
<line x1="610.6" y1="934.7" x2="610.6" y2="958.5" stroke-width="4.6" stroke-linecap="round"/>
<line x1="610.6" y1="1418.4" x2="610.6" y2="1406.5" stroke-width="4.6" stroke-linecap="round"/>
<line x1="699.1" y1="1.6" x2="699.1" y2="8.9" stroke-width="4.6" stroke-linecap="round"/>
<line x1="699.1" y1="467.1" x2="699.1" y2="481.7" stroke-width="4.6" stroke-linecap="round"/>
<line x1="699.1" y1="939.3" x2="699.1" y2="953.9" stroke-width="4.6" stroke-linecap="round"/>
<line x1="699.1" y1="1418.4" x2="699.1" y2="1411.1" stroke-width="4.6" stroke-linecap="round"/>
<line x1="787.5" y1="1.6" x2="787.5" y2="13.5" stroke-width="4.6" stroke-linecap="round"/>
<line x1="787.5" y1="462.5" x2="787.5" y2="486.3" stroke-width="4.6" stroke-linecap="round"/>
<line x1="787.5" y1="934.7" x2="787.5" y2="958.5" stroke-width="4.6" stroke-linecap="round"/>
<line x1="787.5" y1="1418.4" x2="787.5" y2="1406.5" stroke-width="4.6" stroke-linecap="round"/>
<line x1="876.0" y1="1.6" x2="876.0" y2="8.9" stroke-width="4.6" stroke-linecap="round"/>
<line x1="876.0" y1="467.1" x2="876.0" y2="481.7" stroke-width="4.6" stroke-linecap="round"/>
<line x1="876.0" y1="939.3" x2="876.0" y2="953.9" stroke-width="4.6" stroke-linecap="round"/>
<line x1="876.0" y1="1418.4" x2="876.0" y2="1411.1" stroke-width="4.6" stroke-linecap="round"/>
<line x1="256.8" y1="37.0" x2="268.1" y2="37.0" stroke-width="4.6" stroke-linecap="round"/>
<line x1="964.5" y1="37.0" x2="953.0" y2="37.0" stroke-width="4.6" stroke-linecap="round"/>
<line x1="256.8" y1="124.5" x2="263.4" y2="124.5" stroke-width="4.6" stroke-linecap="round"/>
<line x1="964.5" y1="124.5" x2="957.8" y2="124.5" stroke-width="4.6" stroke-linecap="round"/>
<line x1="256.8" y1="212.0" x2="268.1" y2="212.0" stroke-width="4.6" stroke-linecap="round"/>
<line x1="964.5" y1="212.0" x2="953.0" y2="212.0" stroke-width="4.6" stroke-linecap="round"/>
<line x1="256.8" y1="299.5" x2="263.4" y2="299.5" stroke-width="4.6" stroke-linecap="round"/>
<line x1="964.5" y1="299.5" x2="957.8" y2="299.5" stroke-width="4.6" stroke-linecap="round"/>
<line x1="256.8" y1="387.0" x2="268.1" y2="387.0" stroke-width="4.6" stroke-linecap="round"/>
<line x1="964.5" y1="387.0" x2="953.0" y2="387.0" stroke-width="4.6" stroke-linecap="round"/>
<line x1="256.8" y1="484.4" x2="263.4" y2="484.4" stroke-width="4.6" stroke-linecap="round"/>
<line x1="964.5" y1="484.4" x2="957.8" y2="484.4" stroke-width="4.6" stroke-linecap="round"/>
<line x1="256.8" y1="576.6" x2="268.1" y2="576.6" stroke-width="4.6" stroke-linecap="round"/>
<line x1="964.5" y1="576.6" x2="953.0" y2="576.6" stroke-width="4.6" stroke-linecap="round"/>
<line x1="256.8" y1="668.8" x2="263.4" y2="668.8" stroke-width="4.6" stroke-linecap="round"/>
<line x1="964.5" y1="668.8" x2="957.8" y2="668.8" stroke-width="4.6" stroke-linecap="round"/>
<line x1="256.8" y1="761.0" x2="268.1" y2="761.0" stroke-width="4.6" stroke-linecap="round"/>
<line x1="964.5" y1="761.0" x2="953.0" y2="761.0" stroke-width="4.6" stroke-linecap="round"/>
<line x1="256.8" y1="853.2" x2="263.4" y2="853.2" stroke-width="4.6" stroke-linecap="round"/>
<line x1="964.5" y1="853.2" x2="957.8" y2="853.2" stroke-width="4.6" stroke-linecap="round"/>
<line x1="256.8" y1="1005.6" x2="263.4" y2="1005.6" stroke-width="4.6" stroke-linecap="round"/>
<line x1="964.5" y1="1005.6" x2="957.8" y2="1005.6" stroke-width="4.6" stroke-linecap="round"/>
<line x1="256.8" y1="1064.6" x2="268.1" y2="1064.6" stroke-width="4.6" stroke-linecap="round"/>
<line x1="964.5" y1="1064.6" x2="953.0" y2="1064.6" stroke-width="4.6" stroke-linecap="round"/>
<line x1="256.8" y1="1123.5" x2="263.4" y2="1123.5" stroke-width="4.6" stroke-linecap="round"/>
<line x1="964.5" y1="1123.5" x2="957.8" y2="1123.5" stroke-width="4.6" stroke-linecap="round"/>
<line x1="256.8" y1="1182.5" x2="268.1" y2="1182.5" stroke-width="4.6" stroke-linecap="round"/>
<line x1="964.5" y1="1182.5" x2="953.0" y2="1182.5" stroke-width="4.6" stroke-linecap="round"/>
<line x1="256.8" y1="1241.5" x2="263.4" y2="1241.5" stroke-width="4.6" stroke-linecap="round"/>
<line x1="964.5" y1="1241.5" x2="957.8" y2="1241.5" stroke-width="4.6" stroke-linecap="round"/>
<line x1="256.8" y1="1300.4" x2="268.1" y2="1300.4" stroke-width="4.6" stroke-linecap="round"/>
<line x1="964.5" y1="1300.4" x2="953.0" y2="1300.4" stroke-width="4.6" stroke-linecap="round"/>
<line x1="256.8" y1="1359.4" x2="263.4" y2="1359.4" stroke-width="4.6" stroke-linecap="round"/>
<line x1="964.5" y1="1359.4" x2="957.8" y2="1359.4" stroke-width="4.6" stroke-linecap="round"/>
<line x1="256.8" y1="1.6" x2="256.8" y2="1418.4" stroke-width="4.9" stroke-linecap="square"/>
<line x1="964.5" y1="1.6" x2="964.5" y2="1418.4" stroke-width="4.9" stroke-linecap="square"/>
<line x1="256.8" y1="1.6" x2="964.5" y2="1.6" stroke-width="4.9" stroke-linecap="butt"/>
<line x1="256.8" y1="474.4" x2="964.5" y2="474.4" stroke-width="4.9" stroke-linecap="butt"/>
<line x1="256.8" y1="946.6" x2="964.5" y2="946.6" stroke-width="4.9" stroke-linecap="butt"/>
<line x1="256.8" y1="1418.4" x2="964.5" y2="1418.4" stroke-width="4.9" stroke-linecap="butt"/>
</g>
<g font-family="'Liberation Sans', Arial, sans-serif" font-weight="bold" fill="#000">
<text x="256.8" y="1482.6" font-size="45.5" text-anchor="middle" >0</text>
<text x="433.7" y="1482.6" font-size="45.5" text-anchor="middle" >40</text>
<text x="610.6" y="1482.6" font-size="45.5" text-anchor="middle" >80</text>
<text x="787.5" y="1482.6" font-size="45.5" text-anchor="middle" >120</text>
<text x="964.5" y="1482.6" font-size="45.5" text-anchor="middle" >160</text>
<text x="610.9" y="1534.3" font-size="45.6" text-anchor="middle" >Cycle</text>
<text x="232.6" y="52.3" font-size="45.5" text-anchor="end" >500</text>
<text x="232.6" y="227.3" font-size="45.5" text-anchor="end" >400</text>
<text x="232.6" y="402.3" font-size="45.5" text-anchor="end" >300</text>
<text x="232.6" y="591.9" font-size="45.5" text-anchor="end" >400</text>
<text x="232.6" y="776.3" font-size="45.5" text-anchor="end" >300</text>
<text x="232.6" y="961.9" font-size="45.5" text-anchor="end" >1.04</text>
<text x="232.6" y="1079.9" font-size="45.5" text-anchor="end" >1.02</text>
<text x="232.6" y="1197.8" font-size="45.5" text-anchor="end" >1.00</text>
<text x="232.6" y="1315.7" font-size="45.5" text-anchor="end" >0.98</text>
<text x="232.6" y="1433.7" font-size="45.5" text-anchor="end" >0.96</text>
<rect x="751.27" y="1477.10" width="8.85" height="6.2" fill="#fff"/>
<rect x="766.52" y="1477.10" width="8.6" height="6.2" fill="#fff"/>
<rect x="928.19" y="1477.10" width="8.85" height="6.2" fill="#fff"/>
<rect x="943.44" y="1477.10" width="8.6" height="6.2" fill="#fff"/>
<rect x="145.74" y="956.40" width="8.85" height="6.2" fill="#fff"/>
<rect x="160.99" y="956.40" width="8.6" height="6.2" fill="#fff"/>
<rect x="145.74" y="1074.36" width="8.85" height="6.2" fill="#fff"/>
<rect x="160.99" y="1074.36" width="8.6" height="6.2" fill="#fff"/>
<rect x="145.74" y="1192.30" width="8.85" height="6.2" fill="#fff"/>
<rect x="160.99" y="1192.30" width="8.6" height="6.2" fill="#fff"/>
<text transform="translate(83.5 238.9) rotate(-90)" font-size="45.8" text-anchor="middle">Specific Capacity</text>
<text transform="translate(134.0 238.3) rotate(-90)" font-size="45.8" text-anchor="middle">(mAh/g)</text>
<text transform="translate(32.8 711.0) rotate(-90)" font-size="45.8" text-anchor="middle">Fully-Sodiated</text>
<text transform="translate(84.5 713.3) rotate(-90)" font-size="45.8" text-anchor="middle">Volumetric</text>
<text transform="translate(135.5 711.0) rotate(-90)" font-size="45.8" text-anchor="middle">Capacity (mAh/cm<tspan font-size="26.5" dy="-14.6">3</tspan><tspan dy="14.6">)</tspan></text>
<text transform="translate(123.0 1189.5) rotate(-90)" font-size="45.8" text-anchor="middle">Normalized Capacity</text>
<text transform="translate(927.2 64.0) scale(0.92 1)" font-size="45" text-anchor="middle">a</text>
<text x="927.3" y="536.8" font-size="45" text-anchor="middle" >b</text>
<text x="928.3" y="1008.8" font-size="45" text-anchor="middle" >c</text>
<text transform="translate(396.3 745.6) scale(1.047 1)" font-size="37.5">Pure Pb</text>
<text transform="translate(396.3 801.0) scale(1.047 1)" font-size="37.5">Pure HC</text>
<text transform="translate(669.5 745.6) scale(1.047 1)" font-size="37.5">Pb-HC blend</text>
</g>
</svg>
</body></html>
